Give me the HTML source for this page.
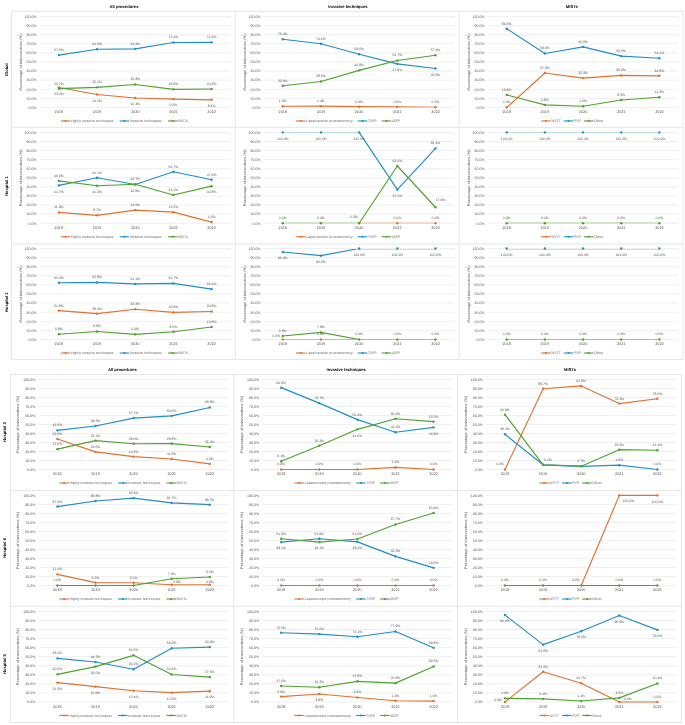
<!DOCTYPE html>
<html><head><meta charset="utf-8"><title>Charts</title>
<style>
html,body{margin:0;padding:0;background:#fff;width:685px;height:725px;overflow:hidden}
svg{display:block;filter:blur(0.3px)}
text{font-family:'Liberation Sans', Arial, sans-serif;text-rendering:geometricPrecision}
</style></head><body>
<svg width="685" height="725" viewBox="0 0 685 725">
<rect width="685" height="725" fill="#fff"/>
<rect x="11.40" y="11.25" width="671.70" height="348.35" fill="#fff" stroke="#E2E2E2" stroke-width="0.9"/>
<line x1="235.30" y1="11.25" x2="235.30" y2="359.60" stroke="#E2E2E2" stroke-width="0.9"/>
<line x1="459.20" y1="11.25" x2="459.20" y2="359.60" stroke="#E2E2E2" stroke-width="0.9"/>
<line x1="11.40" y1="127.30" x2="683.10" y2="127.30" stroke="#E2E2E2" stroke-width="0.9"/>
<line x1="11.40" y1="243.90" x2="683.10" y2="243.90" stroke="#E2E2E2" stroke-width="0.9"/>
<text x="123.95" y="8.49" font-size="4.15" text-anchor="middle" fill="#000" color="#000" font-weight="bold">All procedures</text>
<text x="347.85" y="8.49" font-size="4.15" text-anchor="middle" fill="#000" color="#000" font-weight="bold">Invasive techniques</text>
<text x="571.75" y="8.49" font-size="4.15" text-anchor="middle" fill="#000" color="#000" font-weight="bold">MISTs</text>
<text x="0" y="0" font-size="4.15" text-anchor="middle" font-weight="bold" fill="#000" color="#000" transform="translate(7.99,69.78) rotate(-90)">Global</text>
<text x="0" y="0" font-size="4.15" text-anchor="middle" font-weight="bold" fill="#000" color="#000" transform="translate(7.99,186.10) rotate(-90)">Hospital 1</text>
<text x="0" y="0" font-size="4.15" text-anchor="middle" font-weight="bold" fill="#000" color="#000" transform="translate(7.99,302.25) rotate(-90)">Hospital 2</text>
<line x1="39.80" y1="107.45" x2="230.70" y2="107.45" stroke="#E9E9E9" stroke-width="0.75"/>
<text x="36.80" y="108.75" font-size="3.6" text-anchor="end" fill="#555555" color="#555555">0.0%</text>
<line x1="39.80" y1="98.36" x2="230.70" y2="98.36" stroke="#E9E9E9" stroke-width="0.75"/>
<text x="36.80" y="99.66" font-size="3.6" text-anchor="end" fill="#555555" color="#555555">10.0%</text>
<line x1="39.80" y1="89.27" x2="230.70" y2="89.27" stroke="#E9E9E9" stroke-width="0.75"/>
<text x="36.80" y="90.57" font-size="3.6" text-anchor="end" fill="#555555" color="#555555">20.0%</text>
<line x1="39.80" y1="80.18" x2="230.70" y2="80.18" stroke="#E9E9E9" stroke-width="0.75"/>
<text x="36.80" y="81.48" font-size="3.6" text-anchor="end" fill="#555555" color="#555555">30.0%</text>
<line x1="39.80" y1="71.09" x2="230.70" y2="71.09" stroke="#E9E9E9" stroke-width="0.75"/>
<text x="36.80" y="72.39" font-size="3.6" text-anchor="end" fill="#555555" color="#555555">40.0%</text>
<line x1="39.80" y1="62.00" x2="230.70" y2="62.00" stroke="#E9E9E9" stroke-width="0.75"/>
<text x="36.80" y="63.30" font-size="3.6" text-anchor="end" fill="#555555" color="#555555">50.0%</text>
<line x1="39.80" y1="52.91" x2="230.70" y2="52.91" stroke="#E9E9E9" stroke-width="0.75"/>
<text x="36.80" y="54.21" font-size="3.6" text-anchor="end" fill="#555555" color="#555555">60.0%</text>
<line x1="39.80" y1="43.82" x2="230.70" y2="43.82" stroke="#E9E9E9" stroke-width="0.75"/>
<text x="36.80" y="45.12" font-size="3.6" text-anchor="end" fill="#555555" color="#555555">70.0%</text>
<line x1="39.80" y1="34.73" x2="230.70" y2="34.73" stroke="#E9E9E9" stroke-width="0.75"/>
<text x="36.80" y="36.03" font-size="3.6" text-anchor="end" fill="#555555" color="#555555">80.0%</text>
<line x1="39.80" y1="25.64" x2="230.70" y2="25.64" stroke="#E9E9E9" stroke-width="0.75"/>
<text x="36.80" y="26.94" font-size="3.6" text-anchor="end" fill="#555555" color="#555555">90.0%</text>
<line x1="39.80" y1="16.55" x2="230.70" y2="16.55" stroke="#E9E9E9" stroke-width="0.75"/>
<text x="36.80" y="17.85" font-size="3.6" text-anchor="end" fill="#555555" color="#555555">100.0%</text>
<text x="58.89" y="113.34" font-size="3.85" text-anchor="middle" fill="#555555" color="#555555">2018</text>
<text x="97.07" y="113.34" font-size="3.85" text-anchor="middle" fill="#555555" color="#555555">2019</text>
<text x="135.25" y="113.34" font-size="3.85" text-anchor="middle" fill="#555555" color="#555555">2020</text>
<text x="173.43" y="113.34" font-size="3.85" text-anchor="middle" fill="#555555" color="#555555">2021</text>
<text x="211.61" y="113.34" font-size="3.85" text-anchor="middle" fill="#555555" color="#555555">2022</text>
<text x="0" y="0" font-size="3.6" text-anchor="middle" fill="#555555" color="#555555" transform="translate(21.90,62.00) rotate(-90)" textLength="57" lengthAdjust="spacingAndGlyphs">Percentage of interventions (%)</text>
<line x1="60.80" y1="120.95" x2="70.30" y2="120.95" stroke="#E2702F" stroke-width="1.1"/>
<circle cx="65.55" cy="120.95" r="1.0" fill="#E2702F"/>
<text x="70.90" y="122.25" font-size="3.6" text-anchor="start" fill="#707070" color="#707070" textLength="42.70" lengthAdjust="spacingAndGlyphs">Highly invasive techniques</text>
<line x1="119.60" y1="120.95" x2="129.10" y2="120.95" stroke="#1F8FC8" stroke-width="1.1"/>
<circle cx="124.35" cy="120.95" r="1.0" fill="#1F8FC8"/>
<text x="129.70" y="122.25" font-size="3.6" text-anchor="start" fill="#707070" color="#707070" textLength="32.20" lengthAdjust="spacingAndGlyphs">Invasive techniques</text>
<line x1="167.90" y1="120.95" x2="177.40" y2="120.95" stroke="#4FA22E" stroke-width="1.1"/>
<circle cx="172.65" cy="120.95" r="1.0" fill="#4FA22E"/>
<text x="178.00" y="122.25" font-size="3.6" text-anchor="start" fill="#707070" color="#707070" textLength="10.00" lengthAdjust="spacingAndGlyphs">MISTs</text>
<clipPath id="c00"><rect x="39.80" y="16.95" width="190.90" height="90.50"/></clipPath>
<g clip-path="url(#c00)">
<polyline points="58.89,87.45 97.07,94.54 135.25,98.00 173.43,99.09 211.61,99.81" fill="none" stroke="#E2702F" stroke-width="1.15" stroke-linejoin="round" stroke-linecap="round"/>
<polyline points="58.89,55.09 97.07,49.27 135.25,48.91 173.43,42.55 211.61,42.37" fill="none" stroke="#1F8FC8" stroke-width="1.15" stroke-linejoin="round" stroke-linecap="round"/>
<polyline points="58.89,88.63 97.07,87.36 135.25,84.45 173.43,89.36 211.61,89.00" fill="none" stroke="#4FA22E" stroke-width="1.15" stroke-linejoin="round" stroke-linecap="round"/>
</g>
<circle cx="58.89" cy="87.45" r="1.2" fill="#E2702F"/>
<circle cx="97.07" cy="94.54" r="1.2" fill="#E2702F"/>
<circle cx="135.25" cy="98.00" r="1.2" fill="#E2702F"/>
<circle cx="173.43" cy="99.09" r="1.2" fill="#E2702F"/>
<circle cx="211.61" cy="99.81" r="1.2" fill="#E2702F"/>
<circle cx="58.89" cy="55.09" r="1.2" fill="#1F8FC8"/>
<circle cx="97.07" cy="49.27" r="1.2" fill="#1F8FC8"/>
<circle cx="135.25" cy="48.91" r="1.2" fill="#1F8FC8"/>
<circle cx="173.43" cy="42.55" r="1.2" fill="#1F8FC8"/>
<circle cx="211.61" cy="42.37" r="1.2" fill="#1F8FC8"/>
<circle cx="58.89" cy="88.63" r="1.2" fill="#4FA22E"/>
<circle cx="97.07" cy="87.36" r="1.2" fill="#4FA22E"/>
<circle cx="135.25" cy="84.45" r="1.2" fill="#4FA22E"/>
<circle cx="173.43" cy="89.36" r="1.2" fill="#4FA22E"/>
<circle cx="211.61" cy="89.00" r="1.2" fill="#4FA22E"/>
<text x="58.89" y="94.69" font-size="3.45" text-anchor="middle" fill="#555555" color="#555555">22.0%</text>
<text x="97.07" y="101.78" font-size="3.45" text-anchor="middle" fill="#555555" color="#555555">14.2%</text>
<text x="135.25" y="105.24" font-size="3.45" text-anchor="middle" fill="#555555" color="#555555">10.4%</text>
<text x="173.43" y="106.33" font-size="3.45" text-anchor="middle" fill="#555555" color="#555555">9.2%</text>
<text x="211.61" y="107.06" font-size="3.45" text-anchor="middle" fill="#555555" color="#555555">8.4%</text>
<text x="58.89" y="51.03" font-size="3.45" text-anchor="middle" fill="#555555" color="#555555">57.6%</text>
<text x="97.07" y="45.22" font-size="3.45" text-anchor="middle" fill="#555555" color="#555555">64.0%</text>
<text x="135.25" y="44.85" font-size="3.45" text-anchor="middle" fill="#555555" color="#555555">64.4%</text>
<text x="173.43" y="38.49" font-size="3.45" text-anchor="middle" fill="#555555" color="#555555">71.4%</text>
<text x="211.61" y="38.31" font-size="3.45" text-anchor="middle" fill="#555555" color="#555555">71.6%</text>
<text x="58.89" y="84.58" font-size="3.45" text-anchor="middle" fill="#555555" color="#555555">20.7%</text>
<text x="97.07" y="83.30" font-size="3.45" text-anchor="middle" fill="#555555" color="#555555">22.1%</text>
<text x="135.25" y="80.39" font-size="3.45" text-anchor="middle" fill="#555555" color="#555555">25.3%</text>
<text x="173.43" y="85.30" font-size="3.45" text-anchor="middle" fill="#555555" color="#555555">19.9%</text>
<text x="211.61" y="84.94" font-size="3.45" text-anchor="middle" fill="#555555" color="#555555">20.3%</text>
<line x1="263.70" y1="107.45" x2="454.60" y2="107.45" stroke="#E9E9E9" stroke-width="0.75"/>
<text x="260.70" y="108.75" font-size="3.6" text-anchor="end" fill="#555555" color="#555555">0.0%</text>
<line x1="263.70" y1="98.36" x2="454.60" y2="98.36" stroke="#E9E9E9" stroke-width="0.75"/>
<text x="260.70" y="99.66" font-size="3.6" text-anchor="end" fill="#555555" color="#555555">10.0%</text>
<line x1="263.70" y1="89.27" x2="454.60" y2="89.27" stroke="#E9E9E9" stroke-width="0.75"/>
<text x="260.70" y="90.57" font-size="3.6" text-anchor="end" fill="#555555" color="#555555">20.0%</text>
<line x1="263.70" y1="80.18" x2="454.60" y2="80.18" stroke="#E9E9E9" stroke-width="0.75"/>
<text x="260.70" y="81.48" font-size="3.6" text-anchor="end" fill="#555555" color="#555555">30.0%</text>
<line x1="263.70" y1="71.09" x2="454.60" y2="71.09" stroke="#E9E9E9" stroke-width="0.75"/>
<text x="260.70" y="72.39" font-size="3.6" text-anchor="end" fill="#555555" color="#555555">40.0%</text>
<line x1="263.70" y1="62.00" x2="454.60" y2="62.00" stroke="#E9E9E9" stroke-width="0.75"/>
<text x="260.70" y="63.30" font-size="3.6" text-anchor="end" fill="#555555" color="#555555">50.0%</text>
<line x1="263.70" y1="52.91" x2="454.60" y2="52.91" stroke="#E9E9E9" stroke-width="0.75"/>
<text x="260.70" y="54.21" font-size="3.6" text-anchor="end" fill="#555555" color="#555555">60.0%</text>
<line x1="263.70" y1="43.82" x2="454.60" y2="43.82" stroke="#E9E9E9" stroke-width="0.75"/>
<text x="260.70" y="45.12" font-size="3.6" text-anchor="end" fill="#555555" color="#555555">70.0%</text>
<line x1="263.70" y1="34.73" x2="454.60" y2="34.73" stroke="#E9E9E9" stroke-width="0.75"/>
<text x="260.70" y="36.03" font-size="3.6" text-anchor="end" fill="#555555" color="#555555">80.0%</text>
<line x1="263.70" y1="25.64" x2="454.60" y2="25.64" stroke="#E9E9E9" stroke-width="0.75"/>
<text x="260.70" y="26.94" font-size="3.6" text-anchor="end" fill="#555555" color="#555555">90.0%</text>
<line x1="263.70" y1="16.55" x2="454.60" y2="16.55" stroke="#E9E9E9" stroke-width="0.75"/>
<text x="260.70" y="17.85" font-size="3.6" text-anchor="end" fill="#555555" color="#555555">100.0%</text>
<text x="282.79" y="113.34" font-size="3.85" text-anchor="middle" fill="#555555" color="#555555">2018</text>
<text x="320.97" y="113.34" font-size="3.85" text-anchor="middle" fill="#555555" color="#555555">2019</text>
<text x="359.15" y="113.34" font-size="3.85" text-anchor="middle" fill="#555555" color="#555555">2020</text>
<text x="397.33" y="113.34" font-size="3.85" text-anchor="middle" fill="#555555" color="#555555">2021</text>
<text x="435.51" y="113.34" font-size="3.85" text-anchor="middle" fill="#555555" color="#555555">2022</text>
<text x="0" y="0" font-size="3.6" text-anchor="middle" fill="#555555" color="#555555" transform="translate(245.80,62.00) rotate(-90)" textLength="57" lengthAdjust="spacingAndGlyphs">Percentage of interventions (%)</text>
<line x1="296.00" y1="120.95" x2="305.50" y2="120.95" stroke="#E2702F" stroke-width="1.1"/>
<circle cx="300.75" cy="120.95" r="1.0" fill="#E2702F"/>
<text x="306.10" y="122.25" font-size="3.6" text-anchor="start" fill="#707070" color="#707070" textLength="46.40" lengthAdjust="spacingAndGlyphs">Laparoscopic prostatectomy</text>
<line x1="357.80" y1="120.95" x2="367.30" y2="120.95" stroke="#1F8FC8" stroke-width="1.1"/>
<circle cx="362.55" cy="120.95" r="1.0" fill="#1F8FC8"/>
<text x="367.90" y="122.25" font-size="3.6" text-anchor="start" fill="#707070" color="#707070" textLength="8.70" lengthAdjust="spacingAndGlyphs">TURP</text>
<line x1="381.80" y1="120.95" x2="391.30" y2="120.95" stroke="#4FA22E" stroke-width="1.1"/>
<circle cx="386.55" cy="120.95" r="1.0" fill="#4FA22E"/>
<text x="391.90" y="122.25" font-size="3.6" text-anchor="start" fill="#707070" color="#707070" textLength="8.20" lengthAdjust="spacingAndGlyphs">AEEP</text>
<clipPath id="c01"><rect x="263.70" y="16.95" width="190.90" height="90.50"/></clipPath>
<g clip-path="url(#c01)">
<polyline points="282.79,106.27 320.97,106.18 359.15,106.63 397.33,106.90 435.51,107.27" fill="none" stroke="#E2702F" stroke-width="1.15" stroke-linejoin="round" stroke-linecap="round"/>
<polyline points="282.79,39.27 320.97,43.73 359.15,54.18 397.33,63.91 435.51,68.54" fill="none" stroke="#1F8FC8" stroke-width="1.15" stroke-linejoin="round" stroke-linecap="round"/>
<polyline points="282.79,85.72 320.97,81.45 359.15,70.36 397.33,60.45 435.51,55.27" fill="none" stroke="#4FA22E" stroke-width="1.15" stroke-linejoin="round" stroke-linecap="round"/>
</g>
<circle cx="282.79" cy="106.27" r="1.2" fill="#E2702F"/>
<circle cx="320.97" cy="106.18" r="1.2" fill="#E2702F"/>
<circle cx="359.15" cy="106.63" r="1.2" fill="#E2702F"/>
<circle cx="397.33" cy="106.90" r="1.2" fill="#E2702F"/>
<circle cx="435.51" cy="107.27" r="1.2" fill="#E2702F"/>
<circle cx="282.79" cy="39.27" r="1.2" fill="#1F8FC8"/>
<circle cx="320.97" cy="43.73" r="1.2" fill="#1F8FC8"/>
<circle cx="359.15" cy="54.18" r="1.2" fill="#1F8FC8"/>
<circle cx="397.33" cy="63.91" r="1.2" fill="#1F8FC8"/>
<circle cx="435.51" cy="68.54" r="1.2" fill="#1F8FC8"/>
<circle cx="282.79" cy="85.72" r="1.2" fill="#4FA22E"/>
<circle cx="320.97" cy="81.45" r="1.2" fill="#4FA22E"/>
<circle cx="359.15" cy="70.36" r="1.2" fill="#4FA22E"/>
<circle cx="397.33" cy="60.45" r="1.2" fill="#4FA22E"/>
<circle cx="435.51" cy="55.27" r="1.2" fill="#4FA22E"/>
<text x="282.79" y="102.21" font-size="3.45" text-anchor="middle" fill="#555555" color="#555555">1.3%</text>
<text x="320.97" y="102.12" font-size="3.45" text-anchor="middle" fill="#555555" color="#555555">1.4%</text>
<text x="359.15" y="102.57" font-size="3.45" text-anchor="middle" fill="#555555" color="#555555">0.9%</text>
<text x="397.33" y="102.85" font-size="3.45" text-anchor="middle" fill="#555555" color="#555555">0.6%</text>
<text x="435.51" y="103.21" font-size="3.45" text-anchor="middle" fill="#555555" color="#555555">0.2%</text>
<text x="282.79" y="35.22" font-size="3.45" text-anchor="middle" fill="#555555" color="#555555">75.0%</text>
<text x="320.97" y="39.67" font-size="3.45" text-anchor="middle" fill="#555555" color="#555555">70.1%</text>
<text x="359.15" y="50.12" font-size="3.45" text-anchor="middle" fill="#555555" color="#555555">58.6%</text>
<text x="397.33" y="71.15" font-size="3.45" text-anchor="middle" fill="#555555" color="#555555">47.9%</text>
<text x="435.51" y="75.79" font-size="3.45" text-anchor="middle" fill="#555555" color="#555555">42.8%</text>
<text x="282.79" y="81.67" font-size="3.45" text-anchor="middle" fill="#555555" color="#555555">23.9%</text>
<text x="320.97" y="77.39" font-size="3.45" text-anchor="middle" fill="#555555" color="#555555">28.6%</text>
<text x="359.15" y="66.30" font-size="3.45" text-anchor="middle" fill="#555555" color="#555555">40.8%</text>
<text x="397.33" y="56.40" font-size="3.45" text-anchor="middle" fill="#555555" color="#555555">51.7%</text>
<text x="435.51" y="51.22" font-size="3.45" text-anchor="middle" fill="#555555" color="#555555">57.4%</text>
<line x1="487.60" y1="107.45" x2="678.50" y2="107.45" stroke="#E9E9E9" stroke-width="0.75"/>
<text x="484.60" y="108.75" font-size="3.6" text-anchor="end" fill="#555555" color="#555555">0.0%</text>
<line x1="487.60" y1="98.36" x2="678.50" y2="98.36" stroke="#E9E9E9" stroke-width="0.75"/>
<text x="484.60" y="99.66" font-size="3.6" text-anchor="end" fill="#555555" color="#555555">10.0%</text>
<line x1="487.60" y1="89.27" x2="678.50" y2="89.27" stroke="#E9E9E9" stroke-width="0.75"/>
<text x="484.60" y="90.57" font-size="3.6" text-anchor="end" fill="#555555" color="#555555">20.0%</text>
<line x1="487.60" y1="80.18" x2="678.50" y2="80.18" stroke="#E9E9E9" stroke-width="0.75"/>
<text x="484.60" y="81.48" font-size="3.6" text-anchor="end" fill="#555555" color="#555555">30.0%</text>
<line x1="487.60" y1="71.09" x2="678.50" y2="71.09" stroke="#E9E9E9" stroke-width="0.75"/>
<text x="484.60" y="72.39" font-size="3.6" text-anchor="end" fill="#555555" color="#555555">40.0%</text>
<line x1="487.60" y1="62.00" x2="678.50" y2="62.00" stroke="#E9E9E9" stroke-width="0.75"/>
<text x="484.60" y="63.30" font-size="3.6" text-anchor="end" fill="#555555" color="#555555">50.0%</text>
<line x1="487.60" y1="52.91" x2="678.50" y2="52.91" stroke="#E9E9E9" stroke-width="0.75"/>
<text x="484.60" y="54.21" font-size="3.6" text-anchor="end" fill="#555555" color="#555555">60.0%</text>
<line x1="487.60" y1="43.82" x2="678.50" y2="43.82" stroke="#E9E9E9" stroke-width="0.75"/>
<text x="484.60" y="45.12" font-size="3.6" text-anchor="end" fill="#555555" color="#555555">70.0%</text>
<line x1="487.60" y1="34.73" x2="678.50" y2="34.73" stroke="#E9E9E9" stroke-width="0.75"/>
<text x="484.60" y="36.03" font-size="3.6" text-anchor="end" fill="#555555" color="#555555">80.0%</text>
<line x1="487.60" y1="25.64" x2="678.50" y2="25.64" stroke="#E9E9E9" stroke-width="0.75"/>
<text x="484.60" y="26.94" font-size="3.6" text-anchor="end" fill="#555555" color="#555555">90.0%</text>
<line x1="487.60" y1="16.55" x2="678.50" y2="16.55" stroke="#E9E9E9" stroke-width="0.75"/>
<text x="484.60" y="17.85" font-size="3.6" text-anchor="end" fill="#555555" color="#555555">100.0%</text>
<text x="506.69" y="113.34" font-size="3.85" text-anchor="middle" fill="#555555" color="#555555">2018</text>
<text x="544.87" y="113.34" font-size="3.85" text-anchor="middle" fill="#555555" color="#555555">2019</text>
<text x="583.05" y="113.34" font-size="3.85" text-anchor="middle" fill="#555555" color="#555555">2020</text>
<text x="621.23" y="113.34" font-size="3.85" text-anchor="middle" fill="#555555" color="#555555">2021</text>
<text x="659.41" y="113.34" font-size="3.85" text-anchor="middle" fill="#555555" color="#555555">2022</text>
<text x="0" y="0" font-size="3.6" text-anchor="middle" fill="#555555" color="#555555" transform="translate(469.70,62.00) rotate(-90)" textLength="57" lengthAdjust="spacingAndGlyphs">Percentage of interventions (%)</text>
<line x1="541.10" y1="120.95" x2="550.60" y2="120.95" stroke="#E2702F" stroke-width="1.1"/>
<circle cx="545.85" cy="120.95" r="1.0" fill="#E2702F"/>
<text x="551.20" y="122.25" font-size="3.6" text-anchor="start" fill="#707070" color="#707070" textLength="9.60" lengthAdjust="spacingAndGlyphs">WVTT</text>
<line x1="563.80" y1="120.95" x2="573.30" y2="120.95" stroke="#1F8FC8" stroke-width="1.1"/>
<circle cx="568.55" cy="120.95" r="1.0" fill="#1F8FC8"/>
<text x="573.90" y="122.25" font-size="3.6" text-anchor="start" fill="#707070" color="#707070" textLength="7.10" lengthAdjust="spacingAndGlyphs">PVP</text>
<line x1="583.90" y1="120.95" x2="593.40" y2="120.95" stroke="#4FA22E" stroke-width="1.1"/>
<circle cx="588.65" cy="120.95" r="1.0" fill="#4FA22E"/>
<text x="594.00" y="122.25" font-size="3.6" text-anchor="start" fill="#707070" color="#707070" textLength="9.60" lengthAdjust="spacingAndGlyphs">Other</text>
<clipPath id="c02"><rect x="487.60" y="16.95" width="190.90" height="90.50"/></clipPath>
<g clip-path="url(#c02)">
<polyline points="506.69,107.45 544.87,73.00 583.05,78.09 621.23,75.36 659.41,75.82" fill="none" stroke="#E2702F" stroke-width="1.15" stroke-linejoin="round" stroke-linecap="round"/>
<polyline points="506.69,28.73 544.87,53.55 583.05,46.91 621.23,56.09 659.41,58.27" fill="none" stroke="#1F8FC8" stroke-width="1.15" stroke-linejoin="round" stroke-linecap="round"/>
<polyline points="506.69,94.91 544.87,104.90 583.05,106.27 621.23,100.00 659.41,97.27" fill="none" stroke="#4FA22E" stroke-width="1.15" stroke-linejoin="round" stroke-linecap="round"/>
</g>
<circle cx="506.69" cy="107.45" r="1.2" fill="#E2702F"/>
<circle cx="544.87" cy="73.00" r="1.2" fill="#E2702F"/>
<circle cx="583.05" cy="78.09" r="1.2" fill="#E2702F"/>
<circle cx="621.23" cy="75.36" r="1.2" fill="#E2702F"/>
<circle cx="659.41" cy="75.82" r="1.2" fill="#E2702F"/>
<circle cx="506.69" cy="28.73" r="1.2" fill="#1F8FC8"/>
<circle cx="544.87" cy="53.55" r="1.2" fill="#1F8FC8"/>
<circle cx="583.05" cy="46.91" r="1.2" fill="#1F8FC8"/>
<circle cx="621.23" cy="56.09" r="1.2" fill="#1F8FC8"/>
<circle cx="659.41" cy="58.27" r="1.2" fill="#1F8FC8"/>
<circle cx="506.69" cy="94.91" r="1.2" fill="#4FA22E"/>
<circle cx="544.87" cy="104.90" r="1.2" fill="#4FA22E"/>
<circle cx="583.05" cy="106.27" r="1.2" fill="#4FA22E"/>
<circle cx="621.23" cy="100.00" r="1.2" fill="#4FA22E"/>
<circle cx="659.41" cy="97.27" r="1.2" fill="#4FA22E"/>
<text x="506.69" y="103.39" font-size="3.45" text-anchor="middle" fill="#555555" color="#555555">0.0%</text>
<text x="544.87" y="68.94" font-size="3.45" text-anchor="middle" fill="#555555" color="#555555">37.9%</text>
<text x="583.05" y="74.03" font-size="3.45" text-anchor="middle" fill="#555555" color="#555555">32.3%</text>
<text x="621.23" y="71.30" font-size="3.45" text-anchor="middle" fill="#555555" color="#555555">35.3%</text>
<text x="659.41" y="71.76" font-size="3.45" text-anchor="middle" fill="#555555" color="#555555">34.8%</text>
<text x="506.69" y="24.67" font-size="3.45" text-anchor="middle" fill="#555555" color="#555555">86.6%</text>
<text x="544.87" y="49.49" font-size="3.45" text-anchor="middle" fill="#555555" color="#555555">59.3%</text>
<text x="583.05" y="42.85" font-size="3.45" text-anchor="middle" fill="#555555" color="#555555">66.6%</text>
<text x="621.23" y="52.03" font-size="3.45" text-anchor="middle" fill="#555555" color="#555555">56.5%</text>
<text x="659.41" y="54.22" font-size="3.45" text-anchor="middle" fill="#555555" color="#555555">54.1%</text>
<text x="506.69" y="90.85" font-size="3.45" text-anchor="middle" fill="#555555" color="#555555">13.8%</text>
<text x="544.87" y="100.85" font-size="3.45" text-anchor="middle" fill="#555555" color="#555555">2.8%</text>
<text x="583.05" y="102.21" font-size="3.45" text-anchor="middle" fill="#555555" color="#555555">1.3%</text>
<text x="621.23" y="95.94" font-size="3.45" text-anchor="middle" fill="#555555" color="#555555">8.2%</text>
<text x="659.41" y="93.21" font-size="3.45" text-anchor="middle" fill="#555555" color="#555555">11.2%</text>
<line x1="39.80" y1="223.25" x2="230.70" y2="223.25" stroke="#E9E9E9" stroke-width="0.75"/>
<text x="36.80" y="224.55" font-size="3.6" text-anchor="end" fill="#555555" color="#555555">0.0%</text>
<line x1="39.80" y1="214.16" x2="230.70" y2="214.16" stroke="#E9E9E9" stroke-width="0.75"/>
<text x="36.80" y="215.46" font-size="3.6" text-anchor="end" fill="#555555" color="#555555">10.0%</text>
<line x1="39.80" y1="205.08" x2="230.70" y2="205.08" stroke="#E9E9E9" stroke-width="0.75"/>
<text x="36.80" y="206.38" font-size="3.6" text-anchor="end" fill="#555555" color="#555555">20.0%</text>
<line x1="39.80" y1="196.00" x2="230.70" y2="196.00" stroke="#E9E9E9" stroke-width="0.75"/>
<text x="36.80" y="197.29" font-size="3.6" text-anchor="end" fill="#555555" color="#555555">30.0%</text>
<line x1="39.80" y1="186.91" x2="230.70" y2="186.91" stroke="#E9E9E9" stroke-width="0.75"/>
<text x="36.80" y="188.21" font-size="3.6" text-anchor="end" fill="#555555" color="#555555">40.0%</text>
<line x1="39.80" y1="177.82" x2="230.70" y2="177.82" stroke="#E9E9E9" stroke-width="0.75"/>
<text x="36.80" y="179.12" font-size="3.6" text-anchor="end" fill="#555555" color="#555555">50.0%</text>
<line x1="39.80" y1="168.74" x2="230.70" y2="168.74" stroke="#E9E9E9" stroke-width="0.75"/>
<text x="36.80" y="170.04" font-size="3.6" text-anchor="end" fill="#555555" color="#555555">60.0%</text>
<line x1="39.80" y1="159.66" x2="230.70" y2="159.66" stroke="#E9E9E9" stroke-width="0.75"/>
<text x="36.80" y="160.95" font-size="3.6" text-anchor="end" fill="#555555" color="#555555">70.0%</text>
<line x1="39.80" y1="150.57" x2="230.70" y2="150.57" stroke="#E9E9E9" stroke-width="0.75"/>
<text x="36.80" y="151.87" font-size="3.6" text-anchor="end" fill="#555555" color="#555555">80.0%</text>
<line x1="39.80" y1="141.49" x2="230.70" y2="141.49" stroke="#E9E9E9" stroke-width="0.75"/>
<text x="36.80" y="142.78" font-size="3.6" text-anchor="end" fill="#555555" color="#555555">90.0%</text>
<line x1="39.80" y1="132.40" x2="230.70" y2="132.40" stroke="#E9E9E9" stroke-width="0.75"/>
<text x="36.80" y="133.70" font-size="3.6" text-anchor="end" fill="#555555" color="#555555">100.0%</text>
<text x="58.89" y="229.14" font-size="3.85" text-anchor="middle" fill="#555555" color="#555555">2018</text>
<text x="97.07" y="229.14" font-size="3.85" text-anchor="middle" fill="#555555" color="#555555">2019</text>
<text x="135.25" y="229.14" font-size="3.85" text-anchor="middle" fill="#555555" color="#555555">2020</text>
<text x="173.43" y="229.14" font-size="3.85" text-anchor="middle" fill="#555555" color="#555555">2021</text>
<text x="211.61" y="229.14" font-size="3.85" text-anchor="middle" fill="#555555" color="#555555">2022</text>
<text x="0" y="0" font-size="3.6" text-anchor="middle" fill="#555555" color="#555555" transform="translate(21.90,177.82) rotate(-90)" textLength="57" lengthAdjust="spacingAndGlyphs">Percentage of interventions (%)</text>
<line x1="60.80" y1="236.75" x2="70.30" y2="236.75" stroke="#E2702F" stroke-width="1.1"/>
<circle cx="65.55" cy="236.75" r="1.0" fill="#E2702F"/>
<text x="70.90" y="238.05" font-size="3.6" text-anchor="start" fill="#707070" color="#707070" textLength="42.70" lengthAdjust="spacingAndGlyphs">Highly invasive techniques</text>
<line x1="119.60" y1="236.75" x2="129.10" y2="236.75" stroke="#1F8FC8" stroke-width="1.1"/>
<circle cx="124.35" cy="236.75" r="1.0" fill="#1F8FC8"/>
<text x="129.70" y="238.05" font-size="3.6" text-anchor="start" fill="#707070" color="#707070" textLength="32.20" lengthAdjust="spacingAndGlyphs">Invasive techniques</text>
<line x1="167.90" y1="236.75" x2="177.40" y2="236.75" stroke="#4FA22E" stroke-width="1.1"/>
<circle cx="172.65" cy="236.75" r="1.0" fill="#4FA22E"/>
<text x="178.00" y="238.05" font-size="3.6" text-anchor="start" fill="#707070" color="#707070" textLength="10.00" lengthAdjust="spacingAndGlyphs">MISTs</text>
<clipPath id="c10"><rect x="39.80" y="132.80" width="190.90" height="90.45"/></clipPath>
<g clip-path="url(#c10)">
<polyline points="58.89,212.44 97.07,215.35 135.25,210.08 173.43,212.17 211.61,222.07" fill="none" stroke="#E2702F" stroke-width="1.15" stroke-linejoin="round" stroke-linecap="round"/>
<polyline points="58.89,185.37 97.07,177.73 135.25,184.46 173.43,171.74 211.61,179.73" fill="none" stroke="#1F8FC8" stroke-width="1.15" stroke-linejoin="round" stroke-linecap="round"/>
<polyline points="58.89,180.91 97.07,185.73 135.25,184.28 173.43,195.00 211.61,186.18" fill="none" stroke="#4FA22E" stroke-width="1.15" stroke-linejoin="round" stroke-linecap="round"/>
</g>
<circle cx="58.89" cy="212.44" r="1.2" fill="#E2702F"/>
<circle cx="97.07" cy="215.35" r="1.2" fill="#E2702F"/>
<circle cx="135.25" cy="210.08" r="1.2" fill="#E2702F"/>
<circle cx="173.43" cy="212.17" r="1.2" fill="#E2702F"/>
<circle cx="211.61" cy="222.07" r="1.2" fill="#E2702F"/>
<circle cx="58.89" cy="185.37" r="1.2" fill="#1F8FC8"/>
<circle cx="97.07" cy="177.73" r="1.2" fill="#1F8FC8"/>
<circle cx="135.25" cy="184.46" r="1.2" fill="#1F8FC8"/>
<circle cx="173.43" cy="171.74" r="1.2" fill="#1F8FC8"/>
<circle cx="211.61" cy="179.73" r="1.2" fill="#1F8FC8"/>
<circle cx="58.89" cy="180.91" r="1.2" fill="#4FA22E"/>
<circle cx="97.07" cy="185.73" r="1.2" fill="#4FA22E"/>
<circle cx="135.25" cy="184.28" r="1.2" fill="#4FA22E"/>
<circle cx="173.43" cy="195.00" r="1.2" fill="#4FA22E"/>
<circle cx="211.61" cy="186.18" r="1.2" fill="#4FA22E"/>
<text x="58.89" y="208.38" font-size="3.45" text-anchor="middle" fill="#555555" color="#555555">11.9%</text>
<text x="97.07" y="211.29" font-size="3.45" text-anchor="middle" fill="#555555" color="#555555">8.7%</text>
<text x="135.25" y="206.02" font-size="3.45" text-anchor="middle" fill="#555555" color="#555555">14.5%</text>
<text x="173.43" y="208.11" font-size="3.45" text-anchor="middle" fill="#555555" color="#555555">12.2%</text>
<text x="211.61" y="218.01" font-size="3.45" text-anchor="middle" fill="#555555" color="#555555">1.3%</text>
<text x="58.89" y="192.61" font-size="3.45" text-anchor="middle" fill="#555555" color="#555555">41.7%</text>
<text x="97.07" y="173.68" font-size="3.45" text-anchor="middle" fill="#555555" color="#555555">50.1%</text>
<text x="135.25" y="180.40" font-size="3.45" text-anchor="middle" fill="#555555" color="#555555">42.7%</text>
<text x="173.43" y="167.68" font-size="3.45" text-anchor="middle" fill="#555555" color="#555555">56.7%</text>
<text x="211.61" y="175.67" font-size="3.45" text-anchor="middle" fill="#555555" color="#555555">47.9%</text>
<text x="58.89" y="176.86" font-size="3.45" text-anchor="middle" fill="#555555" color="#555555">46.6%</text>
<text x="97.07" y="192.97" font-size="3.45" text-anchor="middle" fill="#555555" color="#555555">41.3%</text>
<text x="135.25" y="191.52" font-size="3.45" text-anchor="middle" fill="#555555" color="#555555">42.9%</text>
<text x="173.43" y="190.94" font-size="3.45" text-anchor="middle" fill="#555555" color="#555555">31.1%</text>
<text x="211.61" y="193.43" font-size="3.45" text-anchor="middle" fill="#555555" color="#555555">40.8%</text>
<line x1="263.70" y1="223.25" x2="454.60" y2="223.25" stroke="#E9E9E9" stroke-width="0.75"/>
<text x="260.70" y="224.55" font-size="3.6" text-anchor="end" fill="#555555" color="#555555">0.0%</text>
<line x1="263.70" y1="214.16" x2="454.60" y2="214.16" stroke="#E9E9E9" stroke-width="0.75"/>
<text x="260.70" y="215.46" font-size="3.6" text-anchor="end" fill="#555555" color="#555555">10.0%</text>
<line x1="263.70" y1="205.08" x2="454.60" y2="205.08" stroke="#E9E9E9" stroke-width="0.75"/>
<text x="260.70" y="206.38" font-size="3.6" text-anchor="end" fill="#555555" color="#555555">20.0%</text>
<line x1="263.70" y1="196.00" x2="454.60" y2="196.00" stroke="#E9E9E9" stroke-width="0.75"/>
<text x="260.70" y="197.29" font-size="3.6" text-anchor="end" fill="#555555" color="#555555">30.0%</text>
<line x1="263.70" y1="186.91" x2="454.60" y2="186.91" stroke="#E9E9E9" stroke-width="0.75"/>
<text x="260.70" y="188.21" font-size="3.6" text-anchor="end" fill="#555555" color="#555555">40.0%</text>
<line x1="263.70" y1="177.82" x2="454.60" y2="177.82" stroke="#E9E9E9" stroke-width="0.75"/>
<text x="260.70" y="179.12" font-size="3.6" text-anchor="end" fill="#555555" color="#555555">50.0%</text>
<line x1="263.70" y1="168.74" x2="454.60" y2="168.74" stroke="#E9E9E9" stroke-width="0.75"/>
<text x="260.70" y="170.04" font-size="3.6" text-anchor="end" fill="#555555" color="#555555">60.0%</text>
<line x1="263.70" y1="159.66" x2="454.60" y2="159.66" stroke="#E9E9E9" stroke-width="0.75"/>
<text x="260.70" y="160.95" font-size="3.6" text-anchor="end" fill="#555555" color="#555555">70.0%</text>
<line x1="263.70" y1="150.57" x2="454.60" y2="150.57" stroke="#E9E9E9" stroke-width="0.75"/>
<text x="260.70" y="151.87" font-size="3.6" text-anchor="end" fill="#555555" color="#555555">80.0%</text>
<line x1="263.70" y1="141.49" x2="454.60" y2="141.49" stroke="#E9E9E9" stroke-width="0.75"/>
<text x="260.70" y="142.78" font-size="3.6" text-anchor="end" fill="#555555" color="#555555">90.0%</text>
<line x1="263.70" y1="132.40" x2="454.60" y2="132.40" stroke="#E9E9E9" stroke-width="0.75"/>
<text x="260.70" y="133.70" font-size="3.6" text-anchor="end" fill="#555555" color="#555555">100.0%</text>
<text x="282.79" y="229.14" font-size="3.85" text-anchor="middle" fill="#555555" color="#555555">2018</text>
<text x="320.97" y="229.14" font-size="3.85" text-anchor="middle" fill="#555555" color="#555555">2019</text>
<text x="359.15" y="229.14" font-size="3.85" text-anchor="middle" fill="#555555" color="#555555">2020</text>
<text x="397.33" y="229.14" font-size="3.85" text-anchor="middle" fill="#555555" color="#555555">2021</text>
<text x="435.51" y="229.14" font-size="3.85" text-anchor="middle" fill="#555555" color="#555555">2022</text>
<text x="0" y="0" font-size="3.6" text-anchor="middle" fill="#555555" color="#555555" transform="translate(245.80,177.82) rotate(-90)" textLength="57" lengthAdjust="spacingAndGlyphs">Percentage of interventions (%)</text>
<line x1="296.00" y1="236.75" x2="305.50" y2="236.75" stroke="#E2702F" stroke-width="1.1"/>
<circle cx="300.75" cy="236.75" r="1.0" fill="#E2702F"/>
<text x="306.10" y="238.05" font-size="3.6" text-anchor="start" fill="#707070" color="#707070" textLength="46.40" lengthAdjust="spacingAndGlyphs">Laparoscopic prostatectomy</text>
<line x1="357.80" y1="236.75" x2="367.30" y2="236.75" stroke="#1F8FC8" stroke-width="1.1"/>
<circle cx="362.55" cy="236.75" r="1.0" fill="#1F8FC8"/>
<text x="367.90" y="238.05" font-size="3.6" text-anchor="start" fill="#707070" color="#707070" textLength="8.70" lengthAdjust="spacingAndGlyphs">TURP</text>
<line x1="381.80" y1="236.75" x2="391.30" y2="236.75" stroke="#4FA22E" stroke-width="1.1"/>
<circle cx="386.55" cy="236.75" r="1.0" fill="#4FA22E"/>
<text x="391.90" y="238.05" font-size="3.6" text-anchor="start" fill="#707070" color="#707070" textLength="8.20" lengthAdjust="spacingAndGlyphs">AEEP</text>
<clipPath id="c11"><rect x="263.70" y="132.80" width="190.90" height="90.45"/></clipPath>
<g clip-path="url(#c11)">
<polyline points="359.15,223.25 397.33,223.25 435.51,223.25" fill="none" stroke="#E2702F" stroke-width="1.15" stroke-linejoin="round" stroke-linecap="round"/>
<polyline points="282.79,132.40 320.97,132.40 359.15,132.40 397.33,189.64 435.51,148.39" fill="none" stroke="#1F8FC8" stroke-width="1.15" stroke-linejoin="round" stroke-linecap="round"/>
<polyline points="282.79,223.25 320.97,223.25 359.15,223.25 397.33,166.01 435.51,207.26" fill="none" stroke="#4FA22E" stroke-width="1.15" stroke-linejoin="round" stroke-linecap="round"/>
</g>
<circle cx="397.33" cy="223.25" r="1.2" fill="#E2702F"/>
<circle cx="435.51" cy="223.25" r="1.2" fill="#E2702F"/>
<circle cx="282.79" cy="132.40" r="1.2" fill="#1F8FC8"/>
<circle cx="320.97" cy="132.40" r="1.2" fill="#1F8FC8"/>
<circle cx="359.15" cy="132.40" r="1.2" fill="#1F8FC8"/>
<circle cx="397.33" cy="189.64" r="1.2" fill="#1F8FC8"/>
<circle cx="435.51" cy="148.39" r="1.2" fill="#1F8FC8"/>
<circle cx="282.79" cy="223.25" r="1.2" fill="#4FA22E"/>
<circle cx="320.97" cy="223.25" r="1.2" fill="#4FA22E"/>
<circle cx="359.15" cy="223.25" r="1.2" fill="#4FA22E"/>
<circle cx="397.33" cy="166.01" r="1.2" fill="#4FA22E"/>
<circle cx="435.51" cy="207.26" r="1.2" fill="#4FA22E"/>
<text x="282.79" y="219.19" font-size="3.45" text-anchor="middle" fill="#555555" color="#555555">0.0%</text>
<text x="320.97" y="219.19" font-size="3.45" text-anchor="middle" fill="#555555" color="#555555">0.0%</text>
<text x="353.85" y="217.79" font-size="3.45" text-anchor="middle" fill="#555555" color="#555555">0.0%</text>
<text x="397.33" y="219.19" font-size="3.45" text-anchor="middle" fill="#555555" color="#555555">0.0%</text>
<text x="435.51" y="219.19" font-size="3.45" text-anchor="middle" fill="#555555" color="#555555">0.0%</text>
<text x="282.79" y="139.64" font-size="3.45" text-anchor="middle" fill="#555555" color="#555555">100.0%</text>
<text x="320.97" y="139.64" font-size="3.45" text-anchor="middle" fill="#555555" color="#555555">100.0%</text>
<text x="359.15" y="139.64" font-size="3.45" text-anchor="middle" fill="#555555" color="#555555">100.0%</text>
<text x="397.33" y="196.88" font-size="3.45" text-anchor="middle" fill="#555555" color="#555555">37.0%</text>
<text x="435.51" y="144.33" font-size="3.45" text-anchor="middle" fill="#555555" color="#555555">82.4%</text>
<text x="397.33" y="161.96" font-size="3.45" text-anchor="middle" fill="#555555" color="#555555">63.0%</text>
<text x="440.71" y="200.90" font-size="3.45" text-anchor="middle" fill="#555555" color="#555555">17.6%</text>
<line x1="487.60" y1="223.25" x2="678.50" y2="223.25" stroke="#E9E9E9" stroke-width="0.75"/>
<text x="484.60" y="224.55" font-size="3.6" text-anchor="end" fill="#555555" color="#555555">0.0%</text>
<line x1="487.60" y1="214.16" x2="678.50" y2="214.16" stroke="#E9E9E9" stroke-width="0.75"/>
<text x="484.60" y="215.46" font-size="3.6" text-anchor="end" fill="#555555" color="#555555">10.0%</text>
<line x1="487.60" y1="205.08" x2="678.50" y2="205.08" stroke="#E9E9E9" stroke-width="0.75"/>
<text x="484.60" y="206.38" font-size="3.6" text-anchor="end" fill="#555555" color="#555555">20.0%</text>
<line x1="487.60" y1="196.00" x2="678.50" y2="196.00" stroke="#E9E9E9" stroke-width="0.75"/>
<text x="484.60" y="197.29" font-size="3.6" text-anchor="end" fill="#555555" color="#555555">30.0%</text>
<line x1="487.60" y1="186.91" x2="678.50" y2="186.91" stroke="#E9E9E9" stroke-width="0.75"/>
<text x="484.60" y="188.21" font-size="3.6" text-anchor="end" fill="#555555" color="#555555">40.0%</text>
<line x1="487.60" y1="177.82" x2="678.50" y2="177.82" stroke="#E9E9E9" stroke-width="0.75"/>
<text x="484.60" y="179.12" font-size="3.6" text-anchor="end" fill="#555555" color="#555555">50.0%</text>
<line x1="487.60" y1="168.74" x2="678.50" y2="168.74" stroke="#E9E9E9" stroke-width="0.75"/>
<text x="484.60" y="170.04" font-size="3.6" text-anchor="end" fill="#555555" color="#555555">60.0%</text>
<line x1="487.60" y1="159.66" x2="678.50" y2="159.66" stroke="#E9E9E9" stroke-width="0.75"/>
<text x="484.60" y="160.95" font-size="3.6" text-anchor="end" fill="#555555" color="#555555">70.0%</text>
<line x1="487.60" y1="150.57" x2="678.50" y2="150.57" stroke="#E9E9E9" stroke-width="0.75"/>
<text x="484.60" y="151.87" font-size="3.6" text-anchor="end" fill="#555555" color="#555555">80.0%</text>
<line x1="487.60" y1="141.49" x2="678.50" y2="141.49" stroke="#E9E9E9" stroke-width="0.75"/>
<text x="484.60" y="142.78" font-size="3.6" text-anchor="end" fill="#555555" color="#555555">90.0%</text>
<line x1="487.60" y1="132.40" x2="678.50" y2="132.40" stroke="#E9E9E9" stroke-width="0.75"/>
<text x="484.60" y="133.70" font-size="3.6" text-anchor="end" fill="#555555" color="#555555">100.0%</text>
<text x="506.69" y="229.14" font-size="3.85" text-anchor="middle" fill="#555555" color="#555555">2018</text>
<text x="544.87" y="229.14" font-size="3.85" text-anchor="middle" fill="#555555" color="#555555">2019</text>
<text x="583.05" y="229.14" font-size="3.85" text-anchor="middle" fill="#555555" color="#555555">2020</text>
<text x="621.23" y="229.14" font-size="3.85" text-anchor="middle" fill="#555555" color="#555555">2021</text>
<text x="659.41" y="229.14" font-size="3.85" text-anchor="middle" fill="#555555" color="#555555">2022</text>
<text x="0" y="0" font-size="3.6" text-anchor="middle" fill="#555555" color="#555555" transform="translate(469.70,177.82) rotate(-90)" textLength="57" lengthAdjust="spacingAndGlyphs">Percentage of interventions (%)</text>
<line x1="541.10" y1="236.75" x2="550.60" y2="236.75" stroke="#E2702F" stroke-width="1.1"/>
<circle cx="545.85" cy="236.75" r="1.0" fill="#E2702F"/>
<text x="551.20" y="238.05" font-size="3.6" text-anchor="start" fill="#707070" color="#707070" textLength="9.60" lengthAdjust="spacingAndGlyphs">WVTT</text>
<line x1="563.80" y1="236.75" x2="573.30" y2="236.75" stroke="#1F8FC8" stroke-width="1.1"/>
<circle cx="568.55" cy="236.75" r="1.0" fill="#1F8FC8"/>
<text x="573.90" y="238.05" font-size="3.6" text-anchor="start" fill="#707070" color="#707070" textLength="7.10" lengthAdjust="spacingAndGlyphs">PVP</text>
<line x1="583.90" y1="236.75" x2="593.40" y2="236.75" stroke="#4FA22E" stroke-width="1.1"/>
<circle cx="588.65" cy="236.75" r="1.0" fill="#4FA22E"/>
<text x="594.00" y="238.05" font-size="3.6" text-anchor="start" fill="#707070" color="#707070" textLength="9.60" lengthAdjust="spacingAndGlyphs">Other</text>
<clipPath id="c12"><rect x="487.60" y="132.80" width="190.90" height="90.45"/></clipPath>
<g clip-path="url(#c12)">
<polyline points="506.69,132.40 544.87,132.40 583.05,132.40 621.23,132.40 659.41,132.40" fill="none" stroke="#1F8FC8" stroke-width="1.15" stroke-linejoin="round" stroke-linecap="round"/>
<polyline points="506.69,223.25 544.87,223.25 583.05,223.25 621.23,223.25 659.41,223.25" fill="none" stroke="#4FA22E" stroke-width="1.15" stroke-linejoin="round" stroke-linecap="round"/>
</g>
<circle cx="506.69" cy="132.40" r="1.2" fill="#1F8FC8"/>
<circle cx="544.87" cy="132.40" r="1.2" fill="#1F8FC8"/>
<circle cx="583.05" cy="132.40" r="1.2" fill="#1F8FC8"/>
<circle cx="621.23" cy="132.40" r="1.2" fill="#1F8FC8"/>
<circle cx="659.41" cy="132.40" r="1.2" fill="#1F8FC8"/>
<circle cx="506.69" cy="223.25" r="1.2" fill="#4FA22E"/>
<circle cx="544.87" cy="223.25" r="1.2" fill="#4FA22E"/>
<circle cx="583.05" cy="223.25" r="1.2" fill="#4FA22E"/>
<circle cx="621.23" cy="223.25" r="1.2" fill="#4FA22E"/>
<circle cx="659.41" cy="223.25" r="1.2" fill="#4FA22E"/>
<text x="506.69" y="139.64" font-size="3.45" text-anchor="middle" fill="#555555" color="#555555">100.0%</text>
<text x="544.87" y="139.64" font-size="3.45" text-anchor="middle" fill="#555555" color="#555555">100.0%</text>
<text x="583.05" y="139.64" font-size="3.45" text-anchor="middle" fill="#555555" color="#555555">100.0%</text>
<text x="621.23" y="139.64" font-size="3.45" text-anchor="middle" fill="#555555" color="#555555">100.0%</text>
<text x="659.41" y="139.64" font-size="3.45" text-anchor="middle" fill="#555555" color="#555555">100.0%</text>
<text x="506.69" y="219.19" font-size="3.45" text-anchor="middle" fill="#555555" color="#555555">0.0%</text>
<text x="544.87" y="219.19" font-size="3.45" text-anchor="middle" fill="#555555" color="#555555">0.0%</text>
<text x="583.05" y="219.19" font-size="3.45" text-anchor="middle" fill="#555555" color="#555555">0.0%</text>
<text x="621.23" y="219.19" font-size="3.45" text-anchor="middle" fill="#555555" color="#555555">0.0%</text>
<text x="659.41" y="219.19" font-size="3.45" text-anchor="middle" fill="#555555" color="#555555">0.0%</text>
<line x1="39.80" y1="339.50" x2="230.70" y2="339.50" stroke="#E9E9E9" stroke-width="0.75"/>
<text x="36.80" y="340.80" font-size="3.6" text-anchor="end" fill="#555555" color="#555555">0.0%</text>
<line x1="39.80" y1="330.40" x2="230.70" y2="330.40" stroke="#E9E9E9" stroke-width="0.75"/>
<text x="36.80" y="331.70" font-size="3.6" text-anchor="end" fill="#555555" color="#555555">10.0%</text>
<line x1="39.80" y1="321.31" x2="230.70" y2="321.31" stroke="#E9E9E9" stroke-width="0.75"/>
<text x="36.80" y="322.61" font-size="3.6" text-anchor="end" fill="#555555" color="#555555">20.0%</text>
<line x1="39.80" y1="312.22" x2="230.70" y2="312.22" stroke="#E9E9E9" stroke-width="0.75"/>
<text x="36.80" y="313.51" font-size="3.6" text-anchor="end" fill="#555555" color="#555555">30.0%</text>
<line x1="39.80" y1="303.12" x2="230.70" y2="303.12" stroke="#E9E9E9" stroke-width="0.75"/>
<text x="36.80" y="304.42" font-size="3.6" text-anchor="end" fill="#555555" color="#555555">40.0%</text>
<line x1="39.80" y1="294.02" x2="230.70" y2="294.02" stroke="#E9E9E9" stroke-width="0.75"/>
<text x="36.80" y="295.32" font-size="3.6" text-anchor="end" fill="#555555" color="#555555">50.0%</text>
<line x1="39.80" y1="284.93" x2="230.70" y2="284.93" stroke="#E9E9E9" stroke-width="0.75"/>
<text x="36.80" y="286.23" font-size="3.6" text-anchor="end" fill="#555555" color="#555555">60.0%</text>
<line x1="39.80" y1="275.84" x2="230.70" y2="275.84" stroke="#E9E9E9" stroke-width="0.75"/>
<text x="36.80" y="277.13" font-size="3.6" text-anchor="end" fill="#555555" color="#555555">70.0%</text>
<line x1="39.80" y1="266.74" x2="230.70" y2="266.74" stroke="#E9E9E9" stroke-width="0.75"/>
<text x="36.80" y="268.04" font-size="3.6" text-anchor="end" fill="#555555" color="#555555">80.0%</text>
<line x1="39.80" y1="257.64" x2="230.70" y2="257.64" stroke="#E9E9E9" stroke-width="0.75"/>
<text x="36.80" y="258.94" font-size="3.6" text-anchor="end" fill="#555555" color="#555555">90.0%</text>
<line x1="39.80" y1="248.55" x2="230.70" y2="248.55" stroke="#E9E9E9" stroke-width="0.75"/>
<text x="36.80" y="249.85" font-size="3.6" text-anchor="end" fill="#555555" color="#555555">100.0%</text>
<text x="58.89" y="345.39" font-size="3.85" text-anchor="middle" fill="#555555" color="#555555">2018</text>
<text x="97.07" y="345.39" font-size="3.85" text-anchor="middle" fill="#555555" color="#555555">2019</text>
<text x="135.25" y="345.39" font-size="3.85" text-anchor="middle" fill="#555555" color="#555555">2020</text>
<text x="173.43" y="345.39" font-size="3.85" text-anchor="middle" fill="#555555" color="#555555">2021</text>
<text x="211.61" y="345.39" font-size="3.85" text-anchor="middle" fill="#555555" color="#555555">2022</text>
<text x="0" y="0" font-size="3.6" text-anchor="middle" fill="#555555" color="#555555" transform="translate(21.90,294.02) rotate(-90)" textLength="57" lengthAdjust="spacingAndGlyphs">Percentage of interventions (%)</text>
<line x1="60.80" y1="353.00" x2="70.30" y2="353.00" stroke="#E2702F" stroke-width="1.1"/>
<circle cx="65.55" cy="353.00" r="1.0" fill="#E2702F"/>
<text x="70.90" y="354.30" font-size="3.6" text-anchor="start" fill="#707070" color="#707070" textLength="42.70" lengthAdjust="spacingAndGlyphs">Highly invasive techniques</text>
<line x1="119.60" y1="353.00" x2="129.10" y2="353.00" stroke="#1F8FC8" stroke-width="1.1"/>
<circle cx="124.35" cy="353.00" r="1.0" fill="#1F8FC8"/>
<text x="129.70" y="354.30" font-size="3.6" text-anchor="start" fill="#707070" color="#707070" textLength="32.20" lengthAdjust="spacingAndGlyphs">Invasive techniques</text>
<line x1="167.90" y1="353.00" x2="177.40" y2="353.00" stroke="#4FA22E" stroke-width="1.1"/>
<circle cx="172.65" cy="353.00" r="1.0" fill="#4FA22E"/>
<text x="178.00" y="354.30" font-size="3.6" text-anchor="start" fill="#707070" color="#707070" textLength="10.00" lengthAdjust="spacingAndGlyphs">MISTs</text>
<clipPath id="c20"><rect x="39.80" y="248.95" width="190.90" height="90.55"/></clipPath>
<g clip-path="url(#c20)">
<polyline points="58.89,310.58 97.07,313.67 135.25,309.21 173.43,312.40 211.61,311.49" fill="none" stroke="#E2702F" stroke-width="1.15" stroke-linejoin="round" stroke-linecap="round"/>
<polyline points="58.89,282.75 97.07,282.38 135.25,283.93 173.43,283.38 211.61,289.11" fill="none" stroke="#1F8FC8" stroke-width="1.15" stroke-linejoin="round" stroke-linecap="round"/>
<polyline points="58.89,334.22 97.07,331.50 135.25,334.41 173.43,331.77 211.61,326.95" fill="none" stroke="#4FA22E" stroke-width="1.15" stroke-linejoin="round" stroke-linecap="round"/>
</g>
<circle cx="58.89" cy="310.58" r="1.2" fill="#E2702F"/>
<circle cx="97.07" cy="313.67" r="1.2" fill="#E2702F"/>
<circle cx="135.25" cy="309.21" r="1.2" fill="#E2702F"/>
<circle cx="173.43" cy="312.40" r="1.2" fill="#E2702F"/>
<circle cx="211.61" cy="311.49" r="1.2" fill="#E2702F"/>
<circle cx="58.89" cy="282.75" r="1.2" fill="#1F8FC8"/>
<circle cx="97.07" cy="282.38" r="1.2" fill="#1F8FC8"/>
<circle cx="135.25" cy="283.93" r="1.2" fill="#1F8FC8"/>
<circle cx="173.43" cy="283.38" r="1.2" fill="#1F8FC8"/>
<circle cx="211.61" cy="289.11" r="1.2" fill="#1F8FC8"/>
<circle cx="58.89" cy="334.22" r="1.2" fill="#4FA22E"/>
<circle cx="97.07" cy="331.50" r="1.2" fill="#4FA22E"/>
<circle cx="135.25" cy="334.41" r="1.2" fill="#4FA22E"/>
<circle cx="173.43" cy="331.77" r="1.2" fill="#4FA22E"/>
<circle cx="211.61" cy="326.95" r="1.2" fill="#4FA22E"/>
<text x="58.89" y="306.52" font-size="3.45" text-anchor="middle" fill="#555555" color="#555555">31.8%</text>
<text x="97.07" y="309.61" font-size="3.45" text-anchor="middle" fill="#555555" color="#555555">28.4%</text>
<text x="135.25" y="305.16" font-size="3.45" text-anchor="middle" fill="#555555" color="#555555">33.3%</text>
<text x="173.43" y="308.34" font-size="3.45" text-anchor="middle" fill="#555555" color="#555555">29.8%</text>
<text x="211.61" y="307.43" font-size="3.45" text-anchor="middle" fill="#555555" color="#555555">30.8%</text>
<text x="58.89" y="278.69" font-size="3.45" text-anchor="middle" fill="#555555" color="#555555">62.4%</text>
<text x="97.07" y="278.33" font-size="3.45" text-anchor="middle" fill="#555555" color="#555555">62.8%</text>
<text x="135.25" y="279.87" font-size="3.45" text-anchor="middle" fill="#555555" color="#555555">61.1%</text>
<text x="173.43" y="279.33" font-size="3.45" text-anchor="middle" fill="#555555" color="#555555">61.7%</text>
<text x="211.61" y="285.06" font-size="3.45" text-anchor="middle" fill="#555555" color="#555555">55.4%</text>
<text x="58.89" y="330.17" font-size="3.45" text-anchor="middle" fill="#555555" color="#555555">5.8%</text>
<text x="97.07" y="327.44" font-size="3.45" text-anchor="middle" fill="#555555" color="#555555">8.8%</text>
<text x="135.25" y="330.35" font-size="3.45" text-anchor="middle" fill="#555555" color="#555555">5.6%</text>
<text x="173.43" y="327.71" font-size="3.45" text-anchor="middle" fill="#555555" color="#555555">8.5%</text>
<text x="211.61" y="322.89" font-size="3.45" text-anchor="middle" fill="#555555" color="#555555">13.8%</text>
<line x1="263.70" y1="339.50" x2="454.60" y2="339.50" stroke="#E9E9E9" stroke-width="0.75"/>
<text x="260.70" y="340.80" font-size="3.6" text-anchor="end" fill="#555555" color="#555555">0.0%</text>
<line x1="263.70" y1="330.40" x2="454.60" y2="330.40" stroke="#E9E9E9" stroke-width="0.75"/>
<text x="260.70" y="331.70" font-size="3.6" text-anchor="end" fill="#555555" color="#555555">10.0%</text>
<line x1="263.70" y1="321.31" x2="454.60" y2="321.31" stroke="#E9E9E9" stroke-width="0.75"/>
<text x="260.70" y="322.61" font-size="3.6" text-anchor="end" fill="#555555" color="#555555">20.0%</text>
<line x1="263.70" y1="312.22" x2="454.60" y2="312.22" stroke="#E9E9E9" stroke-width="0.75"/>
<text x="260.70" y="313.51" font-size="3.6" text-anchor="end" fill="#555555" color="#555555">30.0%</text>
<line x1="263.70" y1="303.12" x2="454.60" y2="303.12" stroke="#E9E9E9" stroke-width="0.75"/>
<text x="260.70" y="304.42" font-size="3.6" text-anchor="end" fill="#555555" color="#555555">40.0%</text>
<line x1="263.70" y1="294.02" x2="454.60" y2="294.02" stroke="#E9E9E9" stroke-width="0.75"/>
<text x="260.70" y="295.32" font-size="3.6" text-anchor="end" fill="#555555" color="#555555">50.0%</text>
<line x1="263.70" y1="284.93" x2="454.60" y2="284.93" stroke="#E9E9E9" stroke-width="0.75"/>
<text x="260.70" y="286.23" font-size="3.6" text-anchor="end" fill="#555555" color="#555555">60.0%</text>
<line x1="263.70" y1="275.84" x2="454.60" y2="275.84" stroke="#E9E9E9" stroke-width="0.75"/>
<text x="260.70" y="277.13" font-size="3.6" text-anchor="end" fill="#555555" color="#555555">70.0%</text>
<line x1="263.70" y1="266.74" x2="454.60" y2="266.74" stroke="#E9E9E9" stroke-width="0.75"/>
<text x="260.70" y="268.04" font-size="3.6" text-anchor="end" fill="#555555" color="#555555">80.0%</text>
<line x1="263.70" y1="257.64" x2="454.60" y2="257.64" stroke="#E9E9E9" stroke-width="0.75"/>
<text x="260.70" y="258.94" font-size="3.6" text-anchor="end" fill="#555555" color="#555555">90.0%</text>
<line x1="263.70" y1="248.55" x2="454.60" y2="248.55" stroke="#E9E9E9" stroke-width="0.75"/>
<text x="260.70" y="249.85" font-size="3.6" text-anchor="end" fill="#555555" color="#555555">100.0%</text>
<text x="282.79" y="345.39" font-size="3.85" text-anchor="middle" fill="#555555" color="#555555">2018</text>
<text x="320.97" y="345.39" font-size="3.85" text-anchor="middle" fill="#555555" color="#555555">2019</text>
<text x="359.15" y="345.39" font-size="3.85" text-anchor="middle" fill="#555555" color="#555555">2020</text>
<text x="397.33" y="345.39" font-size="3.85" text-anchor="middle" fill="#555555" color="#555555">2021</text>
<text x="435.51" y="345.39" font-size="3.85" text-anchor="middle" fill="#555555" color="#555555">2022</text>
<text x="0" y="0" font-size="3.6" text-anchor="middle" fill="#555555" color="#555555" transform="translate(245.80,294.02) rotate(-90)" textLength="57" lengthAdjust="spacingAndGlyphs">Percentage of interventions (%)</text>
<line x1="296.00" y1="353.00" x2="305.50" y2="353.00" stroke="#E2702F" stroke-width="1.1"/>
<circle cx="300.75" cy="353.00" r="1.0" fill="#E2702F"/>
<text x="306.10" y="354.30" font-size="3.6" text-anchor="start" fill="#707070" color="#707070" textLength="46.40" lengthAdjust="spacingAndGlyphs">Laparoscopic prostatectomy</text>
<line x1="357.80" y1="353.00" x2="367.30" y2="353.00" stroke="#1F8FC8" stroke-width="1.1"/>
<circle cx="362.55" cy="353.00" r="1.0" fill="#1F8FC8"/>
<text x="367.90" y="354.30" font-size="3.6" text-anchor="start" fill="#707070" color="#707070" textLength="8.70" lengthAdjust="spacingAndGlyphs">TURP</text>
<line x1="381.80" y1="353.00" x2="391.30" y2="353.00" stroke="#4FA22E" stroke-width="1.1"/>
<circle cx="386.55" cy="353.00" r="1.0" fill="#4FA22E"/>
<text x="391.90" y="354.30" font-size="3.6" text-anchor="start" fill="#707070" color="#707070" textLength="8.20" lengthAdjust="spacingAndGlyphs">AEEP</text>
<clipPath id="c21"><rect x="263.70" y="248.95" width="190.90" height="90.55"/></clipPath>
<g clip-path="url(#c21)">
<polyline points="282.79,339.50 320.97,339.50 359.15,339.50" fill="none" stroke="#E2702F" stroke-width="1.15" stroke-linejoin="round" stroke-linecap="round"/>
<polyline points="282.79,252.01 320.97,255.64 359.15,248.55 397.33,248.55 435.51,248.55" fill="none" stroke="#1F8FC8" stroke-width="1.15" stroke-linejoin="round" stroke-linecap="round"/>
<polyline points="282.79,336.04 320.97,332.41 359.15,339.50 397.33,339.50 435.51,339.50" fill="none" stroke="#4FA22E" stroke-width="1.15" stroke-linejoin="round" stroke-linecap="round"/>
</g>
<circle cx="282.79" cy="339.50" r="1.2" fill="#E2702F"/>
<circle cx="320.97" cy="339.50" r="1.2" fill="#E2702F"/>
<circle cx="282.79" cy="252.01" r="1.2" fill="#1F8FC8"/>
<circle cx="320.97" cy="255.64" r="1.2" fill="#1F8FC8"/>
<circle cx="359.15" cy="248.55" r="1.2" fill="#1F8FC8"/>
<circle cx="397.33" cy="248.55" r="1.2" fill="#1F8FC8"/>
<circle cx="435.51" cy="248.55" r="1.2" fill="#1F8FC8"/>
<circle cx="282.79" cy="336.04" r="1.2" fill="#4FA22E"/>
<circle cx="320.97" cy="332.41" r="1.2" fill="#4FA22E"/>
<circle cx="359.15" cy="339.50" r="1.2" fill="#4FA22E"/>
<circle cx="397.33" cy="339.50" r="1.2" fill="#4FA22E"/>
<circle cx="435.51" cy="339.50" r="1.2" fill="#4FA22E"/>
<text x="276.29" y="337.04" font-size="3.45" text-anchor="middle" fill="#555555" color="#555555">0.0%</text>
<text x="320.97" y="335.44" font-size="3.45" text-anchor="middle" fill="#555555" color="#555555">0.0%</text>
<text x="282.79" y="259.25" font-size="3.45" text-anchor="middle" fill="#555555" color="#555555">96.2%</text>
<text x="320.97" y="262.89" font-size="3.45" text-anchor="middle" fill="#555555" color="#555555">92.2%</text>
<text x="359.15" y="255.79" font-size="3.45" text-anchor="middle" fill="#555555" color="#555555">100.0%</text>
<text x="397.33" y="255.79" font-size="3.45" text-anchor="middle" fill="#555555" color="#555555">100.0%</text>
<text x="435.51" y="255.79" font-size="3.45" text-anchor="middle" fill="#555555" color="#555555">100.0%</text>
<text x="282.79" y="331.99" font-size="3.45" text-anchor="middle" fill="#555555" color="#555555">3.8%</text>
<text x="320.97" y="328.35" font-size="3.45" text-anchor="middle" fill="#555555" color="#555555">7.8%</text>
<text x="359.15" y="335.44" font-size="3.45" text-anchor="middle" fill="#555555" color="#555555">0.0%</text>
<text x="397.33" y="335.44" font-size="3.45" text-anchor="middle" fill="#555555" color="#555555">0.0%</text>
<text x="435.51" y="335.44" font-size="3.45" text-anchor="middle" fill="#555555" color="#555555">0.0%</text>
<line x1="487.60" y1="339.50" x2="678.50" y2="339.50" stroke="#E9E9E9" stroke-width="0.75"/>
<text x="484.60" y="340.80" font-size="3.6" text-anchor="end" fill="#555555" color="#555555">0.0%</text>
<line x1="487.60" y1="330.40" x2="678.50" y2="330.40" stroke="#E9E9E9" stroke-width="0.75"/>
<text x="484.60" y="331.70" font-size="3.6" text-anchor="end" fill="#555555" color="#555555">10.0%</text>
<line x1="487.60" y1="321.31" x2="678.50" y2="321.31" stroke="#E9E9E9" stroke-width="0.75"/>
<text x="484.60" y="322.61" font-size="3.6" text-anchor="end" fill="#555555" color="#555555">20.0%</text>
<line x1="487.60" y1="312.22" x2="678.50" y2="312.22" stroke="#E9E9E9" stroke-width="0.75"/>
<text x="484.60" y="313.51" font-size="3.6" text-anchor="end" fill="#555555" color="#555555">30.0%</text>
<line x1="487.60" y1="303.12" x2="678.50" y2="303.12" stroke="#E9E9E9" stroke-width="0.75"/>
<text x="484.60" y="304.42" font-size="3.6" text-anchor="end" fill="#555555" color="#555555">40.0%</text>
<line x1="487.60" y1="294.02" x2="678.50" y2="294.02" stroke="#E9E9E9" stroke-width="0.75"/>
<text x="484.60" y="295.32" font-size="3.6" text-anchor="end" fill="#555555" color="#555555">50.0%</text>
<line x1="487.60" y1="284.93" x2="678.50" y2="284.93" stroke="#E9E9E9" stroke-width="0.75"/>
<text x="484.60" y="286.23" font-size="3.6" text-anchor="end" fill="#555555" color="#555555">60.0%</text>
<line x1="487.60" y1="275.84" x2="678.50" y2="275.84" stroke="#E9E9E9" stroke-width="0.75"/>
<text x="484.60" y="277.13" font-size="3.6" text-anchor="end" fill="#555555" color="#555555">70.0%</text>
<line x1="487.60" y1="266.74" x2="678.50" y2="266.74" stroke="#E9E9E9" stroke-width="0.75"/>
<text x="484.60" y="268.04" font-size="3.6" text-anchor="end" fill="#555555" color="#555555">80.0%</text>
<line x1="487.60" y1="257.64" x2="678.50" y2="257.64" stroke="#E9E9E9" stroke-width="0.75"/>
<text x="484.60" y="258.94" font-size="3.6" text-anchor="end" fill="#555555" color="#555555">90.0%</text>
<line x1="487.60" y1="248.55" x2="678.50" y2="248.55" stroke="#E9E9E9" stroke-width="0.75"/>
<text x="484.60" y="249.85" font-size="3.6" text-anchor="end" fill="#555555" color="#555555">100.0%</text>
<text x="506.69" y="345.39" font-size="3.85" text-anchor="middle" fill="#555555" color="#555555">2018</text>
<text x="544.87" y="345.39" font-size="3.85" text-anchor="middle" fill="#555555" color="#555555">2019</text>
<text x="583.05" y="345.39" font-size="3.85" text-anchor="middle" fill="#555555" color="#555555">2020</text>
<text x="621.23" y="345.39" font-size="3.85" text-anchor="middle" fill="#555555" color="#555555">2021</text>
<text x="659.41" y="345.39" font-size="3.85" text-anchor="middle" fill="#555555" color="#555555">2022</text>
<text x="0" y="0" font-size="3.6" text-anchor="middle" fill="#555555" color="#555555" transform="translate(469.70,294.02) rotate(-90)" textLength="57" lengthAdjust="spacingAndGlyphs">Percentage of interventions (%)</text>
<line x1="541.10" y1="353.00" x2="550.60" y2="353.00" stroke="#E2702F" stroke-width="1.1"/>
<circle cx="545.85" cy="353.00" r="1.0" fill="#E2702F"/>
<text x="551.20" y="354.30" font-size="3.6" text-anchor="start" fill="#707070" color="#707070" textLength="9.60" lengthAdjust="spacingAndGlyphs">WVTT</text>
<line x1="563.80" y1="353.00" x2="573.30" y2="353.00" stroke="#1F8FC8" stroke-width="1.1"/>
<circle cx="568.55" cy="353.00" r="1.0" fill="#1F8FC8"/>
<text x="573.90" y="354.30" font-size="3.6" text-anchor="start" fill="#707070" color="#707070" textLength="7.10" lengthAdjust="spacingAndGlyphs">PVP</text>
<line x1="583.90" y1="353.00" x2="593.40" y2="353.00" stroke="#4FA22E" stroke-width="1.1"/>
<circle cx="588.65" cy="353.00" r="1.0" fill="#4FA22E"/>
<text x="594.00" y="354.30" font-size="3.6" text-anchor="start" fill="#707070" color="#707070" textLength="9.60" lengthAdjust="spacingAndGlyphs">Other</text>
<clipPath id="c22"><rect x="487.60" y="248.95" width="190.90" height="90.55"/></clipPath>
<g clip-path="url(#c22)">
<polyline points="506.69,248.55 544.87,248.55 583.05,248.55 621.23,248.55 659.41,248.55" fill="none" stroke="#1F8FC8" stroke-width="1.15" stroke-linejoin="round" stroke-linecap="round"/>
<polyline points="506.69,339.50 544.87,339.50 583.05,339.50 621.23,339.50 659.41,339.50" fill="none" stroke="#4FA22E" stroke-width="1.15" stroke-linejoin="round" stroke-linecap="round"/>
</g>
<circle cx="506.69" cy="248.55" r="1.2" fill="#1F8FC8"/>
<circle cx="544.87" cy="248.55" r="1.2" fill="#1F8FC8"/>
<circle cx="583.05" cy="248.55" r="1.2" fill="#1F8FC8"/>
<circle cx="621.23" cy="248.55" r="1.2" fill="#1F8FC8"/>
<circle cx="659.41" cy="248.55" r="1.2" fill="#1F8FC8"/>
<circle cx="506.69" cy="339.50" r="1.2" fill="#4FA22E"/>
<circle cx="544.87" cy="339.50" r="1.2" fill="#4FA22E"/>
<circle cx="583.05" cy="339.50" r="1.2" fill="#4FA22E"/>
<circle cx="621.23" cy="339.50" r="1.2" fill="#4FA22E"/>
<circle cx="659.41" cy="339.50" r="1.2" fill="#4FA22E"/>
<text x="506.69" y="255.79" font-size="3.45" text-anchor="middle" fill="#555555" color="#555555">100.0%</text>
<text x="544.87" y="255.79" font-size="3.45" text-anchor="middle" fill="#555555" color="#555555">100.0%</text>
<text x="583.05" y="255.79" font-size="3.45" text-anchor="middle" fill="#555555" color="#555555">100.0%</text>
<text x="621.23" y="255.79" font-size="3.45" text-anchor="middle" fill="#555555" color="#555555">100.0%</text>
<text x="659.41" y="255.79" font-size="3.45" text-anchor="middle" fill="#555555" color="#555555">100.0%</text>
<text x="506.69" y="335.44" font-size="3.45" text-anchor="middle" fill="#555555" color="#555555">0.0%</text>
<text x="544.87" y="335.44" font-size="3.45" text-anchor="middle" fill="#555555" color="#555555">0.0%</text>
<text x="583.05" y="335.44" font-size="3.45" text-anchor="middle" fill="#555555" color="#555555">0.0%</text>
<text x="621.23" y="335.44" font-size="3.45" text-anchor="middle" fill="#555555" color="#555555">0.0%</text>
<text x="659.41" y="335.44" font-size="3.45" text-anchor="middle" fill="#555555" color="#555555">0.0%</text>
<rect x="10.20" y="374.40" width="671.10" height="348.00" fill="#fff" stroke="#E2E2E2" stroke-width="0.9"/>
<line x1="233.70" y1="374.40" x2="233.70" y2="722.40" stroke="#E2E2E2" stroke-width="0.9"/>
<line x1="457.50" y1="374.40" x2="457.50" y2="722.40" stroke="#E2E2E2" stroke-width="0.9"/>
<line x1="10.20" y1="490.40" x2="681.30" y2="490.40" stroke="#E2E2E2" stroke-width="0.9"/>
<line x1="10.20" y1="606.30" x2="681.30" y2="606.30" stroke="#E2E2E2" stroke-width="0.9"/>
<text x="122.40" y="371.09" font-size="4.15" text-anchor="middle" fill="#000" color="#000" font-weight="bold">All procedures</text>
<text x="346.20" y="371.09" font-size="4.15" text-anchor="middle" fill="#000" color="#000" font-weight="bold">Invasive techniques</text>
<text x="570.00" y="371.09" font-size="4.15" text-anchor="middle" fill="#000" color="#000" font-weight="bold">MISTs</text>
<text x="0" y="0" font-size="4.15" text-anchor="middle" font-weight="bold" fill="#000" color="#000" transform="translate(6.29,432.20) rotate(-90)">Hospital 3</text>
<text x="0" y="0" font-size="4.15" text-anchor="middle" font-weight="bold" fill="#000" color="#000" transform="translate(6.29,548.15) rotate(-90)">Hospital 4</text>
<text x="0" y="0" font-size="4.15" text-anchor="middle" font-weight="bold" fill="#000" color="#000" transform="translate(6.29,664.15) rotate(-90)">Hospital 5</text>
<line x1="38.35" y1="469.50" x2="228.85" y2="469.50" stroke="#E9E9E9" stroke-width="0.75"/>
<text x="35.35" y="470.80" font-size="3.6" text-anchor="end" fill="#555555" color="#555555">0.0%</text>
<line x1="38.35" y1="460.50" x2="228.85" y2="460.50" stroke="#E9E9E9" stroke-width="0.75"/>
<text x="35.35" y="461.79" font-size="3.6" text-anchor="end" fill="#555555" color="#555555">10.0%</text>
<line x1="38.35" y1="451.49" x2="228.85" y2="451.49" stroke="#E9E9E9" stroke-width="0.75"/>
<text x="35.35" y="452.79" font-size="3.6" text-anchor="end" fill="#555555" color="#555555">20.0%</text>
<line x1="38.35" y1="442.49" x2="228.85" y2="442.49" stroke="#E9E9E9" stroke-width="0.75"/>
<text x="35.35" y="443.78" font-size="3.6" text-anchor="end" fill="#555555" color="#555555">30.0%</text>
<line x1="38.35" y1="433.48" x2="228.85" y2="433.48" stroke="#E9E9E9" stroke-width="0.75"/>
<text x="35.35" y="434.78" font-size="3.6" text-anchor="end" fill="#555555" color="#555555">40.0%</text>
<line x1="38.35" y1="424.48" x2="228.85" y2="424.48" stroke="#E9E9E9" stroke-width="0.75"/>
<text x="35.35" y="425.77" font-size="3.6" text-anchor="end" fill="#555555" color="#555555">50.0%</text>
<line x1="38.35" y1="415.47" x2="228.85" y2="415.47" stroke="#E9E9E9" stroke-width="0.75"/>
<text x="35.35" y="416.77" font-size="3.6" text-anchor="end" fill="#555555" color="#555555">60.0%</text>
<line x1="38.35" y1="406.46" x2="228.85" y2="406.46" stroke="#E9E9E9" stroke-width="0.75"/>
<text x="35.35" y="407.76" font-size="3.6" text-anchor="end" fill="#555555" color="#555555">70.0%</text>
<line x1="38.35" y1="397.46" x2="228.85" y2="397.46" stroke="#E9E9E9" stroke-width="0.75"/>
<text x="35.35" y="398.76" font-size="3.6" text-anchor="end" fill="#555555" color="#555555">80.0%</text>
<line x1="38.35" y1="388.45" x2="228.85" y2="388.45" stroke="#E9E9E9" stroke-width="0.75"/>
<text x="35.35" y="389.75" font-size="3.6" text-anchor="end" fill="#555555" color="#555555">90.0%</text>
<line x1="38.35" y1="379.45" x2="228.85" y2="379.45" stroke="#E9E9E9" stroke-width="0.75"/>
<text x="35.35" y="380.75" font-size="3.6" text-anchor="end" fill="#555555" color="#555555">100.0%</text>
<text x="57.40" y="475.39" font-size="3.85" text-anchor="middle" fill="#555555" color="#555555">2018</text>
<text x="95.50" y="475.39" font-size="3.85" text-anchor="middle" fill="#555555" color="#555555">2019</text>
<text x="133.60" y="475.39" font-size="3.85" text-anchor="middle" fill="#555555" color="#555555">2020</text>
<text x="171.70" y="475.39" font-size="3.85" text-anchor="middle" fill="#555555" color="#555555">2021</text>
<text x="209.80" y="475.39" font-size="3.85" text-anchor="middle" fill="#555555" color="#555555">2022</text>
<text x="0" y="0" font-size="3.6" text-anchor="middle" fill="#555555" color="#555555" transform="translate(18.90,424.48) rotate(-90)" textLength="57" lengthAdjust="spacingAndGlyphs">Percentage of interventions (%)</text>
<line x1="59.30" y1="483.00" x2="68.80" y2="483.00" stroke="#E2702F" stroke-width="1.1"/>
<circle cx="64.05" cy="483.00" r="1.0" fill="#E2702F"/>
<text x="69.40" y="484.30" font-size="3.6" text-anchor="start" fill="#707070" color="#707070" textLength="42.70" lengthAdjust="spacingAndGlyphs">Highly invasive techniques</text>
<line x1="118.10" y1="483.00" x2="127.60" y2="483.00" stroke="#1F8FC8" stroke-width="1.1"/>
<circle cx="122.85" cy="483.00" r="1.0" fill="#1F8FC8"/>
<text x="128.20" y="484.30" font-size="3.6" text-anchor="start" fill="#707070" color="#707070" textLength="32.20" lengthAdjust="spacingAndGlyphs">Invasive techniques</text>
<line x1="166.40" y1="483.00" x2="175.90" y2="483.00" stroke="#4FA22E" stroke-width="1.1"/>
<circle cx="171.15" cy="483.00" r="1.0" fill="#4FA22E"/>
<text x="176.50" y="484.30" font-size="3.6" text-anchor="start" fill="#707070" color="#707070" textLength="10.00" lengthAdjust="spacingAndGlyphs">MISTs</text>
<clipPath id="c30"><rect x="38.35" y="379.85" width="190.50" height="89.65"/></clipPath>
<g>
<polyline points="57.40,439.06 95.50,451.85 133.60,456.62 171.70,459.05 209.80,463.83" fill="none" stroke="#E2702F" stroke-width="1.15" stroke-linejoin="round" stroke-linecap="round"/>
<polyline points="57.40,430.33 95.50,426.01 133.60,418.08 171.70,415.83 209.80,407.55" fill="none" stroke="#1F8FC8" stroke-width="1.15" stroke-linejoin="round" stroke-linecap="round"/>
<polyline points="57.40,449.15 95.50,440.59 133.60,443.75 171.70,443.57 209.80,446.99" fill="none" stroke="#4FA22E" stroke-width="1.15" stroke-linejoin="round" stroke-linecap="round"/>
</g>
<circle cx="57.40" cy="439.06" r="1.2" fill="#E2702F"/>
<circle cx="95.50" cy="451.85" r="1.2" fill="#E2702F"/>
<circle cx="133.60" cy="456.62" r="1.2" fill="#E2702F"/>
<circle cx="171.70" cy="459.05" r="1.2" fill="#E2702F"/>
<circle cx="209.80" cy="463.83" r="1.2" fill="#E2702F"/>
<circle cx="57.40" cy="430.33" r="1.2" fill="#1F8FC8"/>
<circle cx="95.50" cy="426.01" r="1.2" fill="#1F8FC8"/>
<circle cx="133.60" cy="418.08" r="1.2" fill="#1F8FC8"/>
<circle cx="171.70" cy="415.83" r="1.2" fill="#1F8FC8"/>
<circle cx="209.80" cy="407.55" r="1.2" fill="#1F8FC8"/>
<circle cx="57.40" cy="449.15" r="1.2" fill="#4FA22E"/>
<circle cx="95.50" cy="440.59" r="1.2" fill="#4FA22E"/>
<circle cx="133.60" cy="443.75" r="1.2" fill="#4FA22E"/>
<circle cx="171.70" cy="443.57" r="1.2" fill="#4FA22E"/>
<circle cx="209.80" cy="446.99" r="1.2" fill="#4FA22E"/>
<text x="57.40" y="435.01" font-size="3.45" text-anchor="middle" fill="#555555" color="#555555">33.8%</text>
<text x="95.50" y="447.79" font-size="3.45" text-anchor="middle" fill="#555555" color="#555555">19.6%</text>
<text x="133.60" y="452.56" font-size="3.45" text-anchor="middle" fill="#555555" color="#555555">14.3%</text>
<text x="171.70" y="455.00" font-size="3.45" text-anchor="middle" fill="#555555" color="#555555">11.6%</text>
<text x="209.80" y="459.77" font-size="3.45" text-anchor="middle" fill="#555555" color="#555555">6.3%</text>
<text x="57.40" y="426.27" font-size="3.45" text-anchor="middle" fill="#555555" color="#555555">43.5%</text>
<text x="95.50" y="421.95" font-size="3.45" text-anchor="middle" fill="#555555" color="#555555">48.3%</text>
<text x="133.60" y="414.02" font-size="3.45" text-anchor="middle" fill="#555555" color="#555555">57.1%</text>
<text x="171.70" y="411.77" font-size="3.45" text-anchor="middle" fill="#555555" color="#555555">59.6%</text>
<text x="209.80" y="403.49" font-size="3.45" text-anchor="middle" fill="#555555" color="#555555">68.8%</text>
<text x="57.40" y="445.09" font-size="3.45" text-anchor="middle" fill="#555555" color="#555555">22.6%</text>
<text x="95.50" y="436.54" font-size="3.45" text-anchor="middle" fill="#555555" color="#555555">32.1%</text>
<text x="133.60" y="439.69" font-size="3.45" text-anchor="middle" fill="#555555" color="#555555">28.6%</text>
<text x="171.70" y="439.51" font-size="3.45" text-anchor="middle" fill="#555555" color="#555555">28.8%</text>
<text x="209.80" y="442.93" font-size="3.45" text-anchor="middle" fill="#555555" color="#555555">25.0%</text>
<line x1="262.15" y1="469.50" x2="452.65" y2="469.50" stroke="#E9E9E9" stroke-width="0.75"/>
<text x="259.15" y="470.80" font-size="3.6" text-anchor="end" fill="#555555" color="#555555">0.0%</text>
<line x1="262.15" y1="460.50" x2="452.65" y2="460.50" stroke="#E9E9E9" stroke-width="0.75"/>
<text x="259.15" y="461.79" font-size="3.6" text-anchor="end" fill="#555555" color="#555555">10.0%</text>
<line x1="262.15" y1="451.49" x2="452.65" y2="451.49" stroke="#E9E9E9" stroke-width="0.75"/>
<text x="259.15" y="452.79" font-size="3.6" text-anchor="end" fill="#555555" color="#555555">20.0%</text>
<line x1="262.15" y1="442.49" x2="452.65" y2="442.49" stroke="#E9E9E9" stroke-width="0.75"/>
<text x="259.15" y="443.78" font-size="3.6" text-anchor="end" fill="#555555" color="#555555">30.0%</text>
<line x1="262.15" y1="433.48" x2="452.65" y2="433.48" stroke="#E9E9E9" stroke-width="0.75"/>
<text x="259.15" y="434.78" font-size="3.6" text-anchor="end" fill="#555555" color="#555555">40.0%</text>
<line x1="262.15" y1="424.48" x2="452.65" y2="424.48" stroke="#E9E9E9" stroke-width="0.75"/>
<text x="259.15" y="425.77" font-size="3.6" text-anchor="end" fill="#555555" color="#555555">50.0%</text>
<line x1="262.15" y1="415.47" x2="452.65" y2="415.47" stroke="#E9E9E9" stroke-width="0.75"/>
<text x="259.15" y="416.77" font-size="3.6" text-anchor="end" fill="#555555" color="#555555">60.0%</text>
<line x1="262.15" y1="406.46" x2="452.65" y2="406.46" stroke="#E9E9E9" stroke-width="0.75"/>
<text x="259.15" y="407.76" font-size="3.6" text-anchor="end" fill="#555555" color="#555555">70.0%</text>
<line x1="262.15" y1="397.46" x2="452.65" y2="397.46" stroke="#E9E9E9" stroke-width="0.75"/>
<text x="259.15" y="398.76" font-size="3.6" text-anchor="end" fill="#555555" color="#555555">80.0%</text>
<line x1="262.15" y1="388.45" x2="452.65" y2="388.45" stroke="#E9E9E9" stroke-width="0.75"/>
<text x="259.15" y="389.75" font-size="3.6" text-anchor="end" fill="#555555" color="#555555">90.0%</text>
<line x1="262.15" y1="379.45" x2="452.65" y2="379.45" stroke="#E9E9E9" stroke-width="0.75"/>
<text x="259.15" y="380.75" font-size="3.6" text-anchor="end" fill="#555555" color="#555555">100.0%</text>
<text x="281.20" y="475.39" font-size="3.85" text-anchor="middle" fill="#555555" color="#555555">2018</text>
<text x="319.30" y="475.39" font-size="3.85" text-anchor="middle" fill="#555555" color="#555555">2019</text>
<text x="357.40" y="475.39" font-size="3.85" text-anchor="middle" fill="#555555" color="#555555">2020</text>
<text x="395.50" y="475.39" font-size="3.85" text-anchor="middle" fill="#555555" color="#555555">2021</text>
<text x="433.60" y="475.39" font-size="3.85" text-anchor="middle" fill="#555555" color="#555555">2022</text>
<text x="0" y="0" font-size="3.6" text-anchor="middle" fill="#555555" color="#555555" transform="translate(242.70,424.48) rotate(-90)" textLength="57" lengthAdjust="spacingAndGlyphs">Percentage of interventions (%)</text>
<line x1="294.40" y1="483.00" x2="303.90" y2="483.00" stroke="#E2702F" stroke-width="1.1"/>
<circle cx="299.15" cy="483.00" r="1.0" fill="#E2702F"/>
<text x="304.50" y="484.30" font-size="3.6" text-anchor="start" fill="#707070" color="#707070" textLength="46.40" lengthAdjust="spacingAndGlyphs">Laparoscopic prostatectomy</text>
<line x1="356.20" y1="483.00" x2="365.70" y2="483.00" stroke="#1F8FC8" stroke-width="1.1"/>
<circle cx="360.95" cy="483.00" r="1.0" fill="#1F8FC8"/>
<text x="366.30" y="484.30" font-size="3.6" text-anchor="start" fill="#707070" color="#707070" textLength="8.70" lengthAdjust="spacingAndGlyphs">TURP</text>
<line x1="380.20" y1="483.00" x2="389.70" y2="483.00" stroke="#4FA22E" stroke-width="1.1"/>
<circle cx="384.95" cy="483.00" r="1.0" fill="#4FA22E"/>
<text x="390.30" y="484.30" font-size="3.6" text-anchor="start" fill="#707070" color="#707070" textLength="8.20" lengthAdjust="spacingAndGlyphs">AEEP</text>
<clipPath id="c31"><rect x="262.15" y="379.85" width="190.50" height="89.65"/></clipPath>
<g>
<polyline points="281.20,469.50 319.30,469.50 357.40,469.50 395.50,467.43 433.60,469.50" fill="none" stroke="#E2702F" stroke-width="1.15" stroke-linejoin="round" stroke-linecap="round"/>
<polyline points="281.20,387.64 319.30,403.13 357.40,419.61 395.50,432.22 433.60,427.36" fill="none" stroke="#1F8FC8" stroke-width="1.15" stroke-linejoin="round" stroke-linecap="round"/>
<polyline points="281.20,461.31 319.30,445.82 357.40,429.34 395.50,418.80 433.60,421.59" fill="none" stroke="#4FA22E" stroke-width="1.15" stroke-linejoin="round" stroke-linecap="round"/>
</g>
<circle cx="281.20" cy="469.50" r="1.2" fill="#E2702F"/>
<circle cx="319.30" cy="469.50" r="1.2" fill="#E2702F"/>
<circle cx="357.40" cy="469.50" r="1.2" fill="#E2702F"/>
<circle cx="395.50" cy="467.43" r="1.2" fill="#E2702F"/>
<circle cx="433.60" cy="469.50" r="1.2" fill="#E2702F"/>
<circle cx="281.20" cy="387.64" r="1.2" fill="#1F8FC8"/>
<circle cx="319.30" cy="403.13" r="1.2" fill="#1F8FC8"/>
<circle cx="357.40" cy="419.61" r="1.2" fill="#1F8FC8"/>
<circle cx="395.50" cy="432.22" r="1.2" fill="#1F8FC8"/>
<circle cx="433.60" cy="427.36" r="1.2" fill="#1F8FC8"/>
<circle cx="281.20" cy="461.31" r="1.2" fill="#4FA22E"/>
<circle cx="319.30" cy="445.82" r="1.2" fill="#4FA22E"/>
<circle cx="357.40" cy="429.34" r="1.2" fill="#4FA22E"/>
<circle cx="395.50" cy="418.80" r="1.2" fill="#4FA22E"/>
<circle cx="433.60" cy="421.59" r="1.2" fill="#4FA22E"/>
<text x="281.20" y="465.44" font-size="3.45" text-anchor="middle" fill="#555555" color="#555555">0.0%</text>
<text x="319.30" y="465.44" font-size="3.45" text-anchor="middle" fill="#555555" color="#555555">0.0%</text>
<text x="357.40" y="465.44" font-size="3.45" text-anchor="middle" fill="#555555" color="#555555">0.0%</text>
<text x="395.50" y="463.37" font-size="3.45" text-anchor="middle" fill="#555555" color="#555555">2.3%</text>
<text x="433.60" y="465.44" font-size="3.45" text-anchor="middle" fill="#555555" color="#555555">0.0%</text>
<text x="281.20" y="383.59" font-size="3.45" text-anchor="middle" fill="#555555" color="#555555">90.9%</text>
<text x="319.30" y="399.08" font-size="3.45" text-anchor="middle" fill="#555555" color="#555555">73.7%</text>
<text x="357.40" y="415.55" font-size="3.45" text-anchor="middle" fill="#555555" color="#555555">55.4%</text>
<text x="395.50" y="428.16" font-size="3.45" text-anchor="middle" fill="#555555" color="#555555">41.4%</text>
<text x="433.60" y="434.60" font-size="3.45" text-anchor="middle" fill="#555555" color="#555555">46.8%</text>
<text x="281.20" y="457.25" font-size="3.45" text-anchor="middle" fill="#555555" color="#555555">9.1%</text>
<text x="319.30" y="441.76" font-size="3.45" text-anchor="middle" fill="#555555" color="#555555">26.3%</text>
<text x="357.40" y="436.58" font-size="3.45" text-anchor="middle" fill="#555555" color="#555555">44.6%</text>
<text x="395.50" y="414.74" font-size="3.45" text-anchor="middle" fill="#555555" color="#555555">56.3%</text>
<text x="433.60" y="417.54" font-size="3.45" text-anchor="middle" fill="#555555" color="#555555">53.2%</text>
<line x1="485.95" y1="469.50" x2="676.45" y2="469.50" stroke="#E9E9E9" stroke-width="0.75"/>
<text x="482.95" y="470.80" font-size="3.6" text-anchor="end" fill="#555555" color="#555555">0.0%</text>
<line x1="485.95" y1="460.50" x2="676.45" y2="460.50" stroke="#E9E9E9" stroke-width="0.75"/>
<text x="482.95" y="461.79" font-size="3.6" text-anchor="end" fill="#555555" color="#555555">10.0%</text>
<line x1="485.95" y1="451.49" x2="676.45" y2="451.49" stroke="#E9E9E9" stroke-width="0.75"/>
<text x="482.95" y="452.79" font-size="3.6" text-anchor="end" fill="#555555" color="#555555">20.0%</text>
<line x1="485.95" y1="442.49" x2="676.45" y2="442.49" stroke="#E9E9E9" stroke-width="0.75"/>
<text x="482.95" y="443.78" font-size="3.6" text-anchor="end" fill="#555555" color="#555555">30.0%</text>
<line x1="485.95" y1="433.48" x2="676.45" y2="433.48" stroke="#E9E9E9" stroke-width="0.75"/>
<text x="482.95" y="434.78" font-size="3.6" text-anchor="end" fill="#555555" color="#555555">40.0%</text>
<line x1="485.95" y1="424.48" x2="676.45" y2="424.48" stroke="#E9E9E9" stroke-width="0.75"/>
<text x="482.95" y="425.77" font-size="3.6" text-anchor="end" fill="#555555" color="#555555">50.0%</text>
<line x1="485.95" y1="415.47" x2="676.45" y2="415.47" stroke="#E9E9E9" stroke-width="0.75"/>
<text x="482.95" y="416.77" font-size="3.6" text-anchor="end" fill="#555555" color="#555555">60.0%</text>
<line x1="485.95" y1="406.46" x2="676.45" y2="406.46" stroke="#E9E9E9" stroke-width="0.75"/>
<text x="482.95" y="407.76" font-size="3.6" text-anchor="end" fill="#555555" color="#555555">70.0%</text>
<line x1="485.95" y1="397.46" x2="676.45" y2="397.46" stroke="#E9E9E9" stroke-width="0.75"/>
<text x="482.95" y="398.76" font-size="3.6" text-anchor="end" fill="#555555" color="#555555">80.0%</text>
<line x1="485.95" y1="388.45" x2="676.45" y2="388.45" stroke="#E9E9E9" stroke-width="0.75"/>
<text x="482.95" y="389.75" font-size="3.6" text-anchor="end" fill="#555555" color="#555555">90.0%</text>
<line x1="485.95" y1="379.45" x2="676.45" y2="379.45" stroke="#E9E9E9" stroke-width="0.75"/>
<text x="482.95" y="380.75" font-size="3.6" text-anchor="end" fill="#555555" color="#555555">100.0%</text>
<text x="505.00" y="475.39" font-size="3.85" text-anchor="middle" fill="#555555" color="#555555">2018</text>
<text x="543.10" y="475.39" font-size="3.85" text-anchor="middle" fill="#555555" color="#555555">2019</text>
<text x="581.20" y="475.39" font-size="3.85" text-anchor="middle" fill="#555555" color="#555555">2020</text>
<text x="619.30" y="475.39" font-size="3.85" text-anchor="middle" fill="#555555" color="#555555">2021</text>
<text x="657.40" y="475.39" font-size="3.85" text-anchor="middle" fill="#555555" color="#555555">2022</text>
<text x="0" y="0" font-size="3.6" text-anchor="middle" fill="#555555" color="#555555" transform="translate(466.50,424.48) rotate(-90)" textLength="57" lengthAdjust="spacingAndGlyphs">Percentage of interventions (%)</text>
<line x1="539.40" y1="483.00" x2="548.90" y2="483.00" stroke="#E2702F" stroke-width="1.1"/>
<circle cx="544.15" cy="483.00" r="1.0" fill="#E2702F"/>
<text x="549.50" y="484.30" font-size="3.6" text-anchor="start" fill="#707070" color="#707070" textLength="9.60" lengthAdjust="spacingAndGlyphs">WVTT</text>
<line x1="562.10" y1="483.00" x2="571.60" y2="483.00" stroke="#1F8FC8" stroke-width="1.1"/>
<circle cx="566.85" cy="483.00" r="1.0" fill="#1F8FC8"/>
<text x="572.20" y="484.30" font-size="3.6" text-anchor="start" fill="#707070" color="#707070" textLength="7.10" lengthAdjust="spacingAndGlyphs">PVP</text>
<line x1="582.20" y1="483.00" x2="591.70" y2="483.00" stroke="#4FA22E" stroke-width="1.1"/>
<circle cx="586.95" cy="483.00" r="1.0" fill="#4FA22E"/>
<text x="592.30" y="484.30" font-size="3.6" text-anchor="start" fill="#707070" color="#707070" textLength="9.60" lengthAdjust="spacingAndGlyphs">Other</text>
<clipPath id="c32"><rect x="485.95" y="379.85" width="190.50" height="89.65"/></clipPath>
<g>
<polyline points="505.00,469.50 543.10,388.73 581.20,385.93 619.30,403.58 657.40,398.72" fill="none" stroke="#E2702F" stroke-width="1.15" stroke-linejoin="round" stroke-linecap="round"/>
<polyline points="505.00,434.29 543.10,464.82 581.20,466.35 619.30,465.18 657.40,469.50" fill="none" stroke="#1F8FC8" stroke-width="1.15" stroke-linejoin="round" stroke-linecap="round"/>
<polyline points="505.00,414.66 543.10,464.91 581.20,466.17 619.30,449.69 657.40,450.23" fill="none" stroke="#4FA22E" stroke-width="1.15" stroke-linejoin="round" stroke-linecap="round"/>
</g>
<circle cx="505.00" cy="469.50" r="1.2" fill="#E2702F"/>
<circle cx="543.10" cy="388.73" r="1.2" fill="#E2702F"/>
<circle cx="581.20" cy="385.93" r="1.2" fill="#E2702F"/>
<circle cx="619.30" cy="403.58" r="1.2" fill="#E2702F"/>
<circle cx="657.40" cy="398.72" r="1.2" fill="#E2702F"/>
<circle cx="505.00" cy="434.29" r="1.2" fill="#1F8FC8"/>
<circle cx="543.10" cy="464.82" r="1.2" fill="#1F8FC8"/>
<circle cx="581.20" cy="466.35" r="1.2" fill="#1F8FC8"/>
<circle cx="619.30" cy="465.18" r="1.2" fill="#1F8FC8"/>
<circle cx="657.40" cy="469.50" r="1.2" fill="#1F8FC8"/>
<circle cx="505.00" cy="414.66" r="1.2" fill="#4FA22E"/>
<circle cx="543.10" cy="464.91" r="1.2" fill="#4FA22E"/>
<circle cx="581.20" cy="466.17" r="1.2" fill="#4FA22E"/>
<circle cx="619.30" cy="449.69" r="1.2" fill="#4FA22E"/>
<circle cx="657.40" cy="450.23" r="1.2" fill="#4FA22E"/>
<text x="499.90" y="465.04" font-size="3.45" text-anchor="middle" fill="#555555" color="#555555">0.0%</text>
<text x="543.10" y="384.67" font-size="3.45" text-anchor="middle" fill="#555555" color="#555555">89.7%</text>
<text x="581.20" y="381.88" font-size="3.45" text-anchor="middle" fill="#555555" color="#555555">92.8%</text>
<text x="619.30" y="399.53" font-size="3.45" text-anchor="middle" fill="#555555" color="#555555">73.2%</text>
<text x="657.40" y="394.66" font-size="3.45" text-anchor="middle" fill="#555555" color="#555555">78.6%</text>
<text x="505.00" y="430.23" font-size="3.45" text-anchor="middle" fill="#555555" color="#555555">39.1%</text>
<text x="619.30" y="461.12" font-size="3.45" text-anchor="middle" fill="#555555" color="#555555">4.8%</text>
<text x="657.40" y="465.44" font-size="3.45" text-anchor="middle" fill="#555555" color="#555555">0.0%</text>
<text x="505.00" y="410.60" font-size="3.45" text-anchor="middle" fill="#555555" color="#555555">60.9%</text>
<text x="548.10" y="461.15" font-size="3.45" text-anchor="middle" fill="#555555" color="#555555">5.1%</text>
<text x="581.20" y="462.11" font-size="3.45" text-anchor="middle" fill="#555555" color="#555555">3.7%</text>
<text x="619.30" y="445.63" font-size="3.45" text-anchor="middle" fill="#555555" color="#555555">22.0%</text>
<text x="657.40" y="446.17" font-size="3.45" text-anchor="middle" fill="#555555" color="#555555">21.4%</text>
<line x1="38.35" y1="585.50" x2="228.85" y2="585.50" stroke="#E9E9E9" stroke-width="0.75"/>
<text x="35.35" y="586.80" font-size="3.6" text-anchor="end" fill="#555555" color="#555555">0.0%</text>
<line x1="38.35" y1="576.49" x2="228.85" y2="576.49" stroke="#E9E9E9" stroke-width="0.75"/>
<text x="35.35" y="577.79" font-size="3.6" text-anchor="end" fill="#555555" color="#555555">10.0%</text>
<line x1="38.35" y1="567.48" x2="228.85" y2="567.48" stroke="#E9E9E9" stroke-width="0.75"/>
<text x="35.35" y="568.78" font-size="3.6" text-anchor="end" fill="#555555" color="#555555">20.0%</text>
<line x1="38.35" y1="558.47" x2="228.85" y2="558.47" stroke="#E9E9E9" stroke-width="0.75"/>
<text x="35.35" y="559.77" font-size="3.6" text-anchor="end" fill="#555555" color="#555555">30.0%</text>
<line x1="38.35" y1="549.46" x2="228.85" y2="549.46" stroke="#E9E9E9" stroke-width="0.75"/>
<text x="35.35" y="550.76" font-size="3.6" text-anchor="end" fill="#555555" color="#555555">40.0%</text>
<line x1="38.35" y1="540.45" x2="228.85" y2="540.45" stroke="#E9E9E9" stroke-width="0.75"/>
<text x="35.35" y="541.75" font-size="3.6" text-anchor="end" fill="#555555" color="#555555">50.0%</text>
<line x1="38.35" y1="531.44" x2="228.85" y2="531.44" stroke="#E9E9E9" stroke-width="0.75"/>
<text x="35.35" y="532.74" font-size="3.6" text-anchor="end" fill="#555555" color="#555555">60.0%</text>
<line x1="38.35" y1="522.43" x2="228.85" y2="522.43" stroke="#E9E9E9" stroke-width="0.75"/>
<text x="35.35" y="523.73" font-size="3.6" text-anchor="end" fill="#555555" color="#555555">70.0%</text>
<line x1="38.35" y1="513.42" x2="228.85" y2="513.42" stroke="#E9E9E9" stroke-width="0.75"/>
<text x="35.35" y="514.72" font-size="3.6" text-anchor="end" fill="#555555" color="#555555">80.0%</text>
<line x1="38.35" y1="504.41" x2="228.85" y2="504.41" stroke="#E9E9E9" stroke-width="0.75"/>
<text x="35.35" y="505.71" font-size="3.6" text-anchor="end" fill="#555555" color="#555555">90.0%</text>
<line x1="38.35" y1="495.40" x2="228.85" y2="495.40" stroke="#E9E9E9" stroke-width="0.75"/>
<text x="35.35" y="496.70" font-size="3.6" text-anchor="end" fill="#555555" color="#555555">100.0%</text>
<text x="57.40" y="591.39" font-size="3.85" text-anchor="middle" fill="#555555" color="#555555">2018</text>
<text x="95.50" y="591.39" font-size="3.85" text-anchor="middle" fill="#555555" color="#555555">2019</text>
<text x="133.60" y="591.39" font-size="3.85" text-anchor="middle" fill="#555555" color="#555555">2020</text>
<text x="171.70" y="591.39" font-size="3.85" text-anchor="middle" fill="#555555" color="#555555">2021</text>
<text x="209.80" y="591.39" font-size="3.85" text-anchor="middle" fill="#555555" color="#555555">2022</text>
<text x="0" y="0" font-size="3.6" text-anchor="middle" fill="#555555" color="#555555" transform="translate(18.90,540.45) rotate(-90)" textLength="57" lengthAdjust="spacingAndGlyphs">Percentage of interventions (%)</text>
<line x1="59.30" y1="599.00" x2="68.80" y2="599.00" stroke="#E2702F" stroke-width="1.1"/>
<circle cx="64.05" cy="599.00" r="1.0" fill="#E2702F"/>
<text x="69.40" y="600.30" font-size="3.6" text-anchor="start" fill="#707070" color="#707070" textLength="42.70" lengthAdjust="spacingAndGlyphs">Highly invasive techniques</text>
<line x1="118.10" y1="599.00" x2="127.60" y2="599.00" stroke="#1F8FC8" stroke-width="1.1"/>
<circle cx="122.85" cy="599.00" r="1.0" fill="#1F8FC8"/>
<text x="128.20" y="600.30" font-size="3.6" text-anchor="start" fill="#707070" color="#707070" textLength="32.20" lengthAdjust="spacingAndGlyphs">Invasive techniques</text>
<line x1="166.40" y1="599.00" x2="175.90" y2="599.00" stroke="#4FA22E" stroke-width="1.1"/>
<circle cx="171.15" cy="599.00" r="1.0" fill="#4FA22E"/>
<text x="176.50" y="600.30" font-size="3.6" text-anchor="start" fill="#707070" color="#707070" textLength="10.00" lengthAdjust="spacingAndGlyphs">MISTs</text>
<clipPath id="c40"><rect x="38.35" y="495.80" width="190.50" height="89.70"/></clipPath>
<g>
<polyline points="57.40,574.33 95.50,582.62 133.60,582.71 171.70,584.78 209.80,584.78" fill="none" stroke="#E2702F" stroke-width="1.15" stroke-linejoin="round" stroke-linecap="round"/>
<polyline points="57.40,506.57 95.50,500.99 133.60,498.19 171.70,502.88 209.80,504.68" fill="none" stroke="#1F8FC8" stroke-width="1.15" stroke-linejoin="round" stroke-linecap="round"/>
<polyline points="57.40,585.50 95.50,585.50 133.60,585.50 171.70,578.74 209.80,577.03" fill="none" stroke="#4FA22E" stroke-width="1.15" stroke-linejoin="round" stroke-linecap="round"/>
</g>
<circle cx="57.40" cy="574.33" r="1.2" fill="#E2702F"/>
<circle cx="95.50" cy="582.62" r="1.2" fill="#E2702F"/>
<circle cx="133.60" cy="582.71" r="1.2" fill="#E2702F"/>
<circle cx="171.70" cy="584.78" r="1.2" fill="#E2702F"/>
<circle cx="209.80" cy="584.78" r="1.2" fill="#E2702F"/>
<circle cx="57.40" cy="506.57" r="1.2" fill="#1F8FC8"/>
<circle cx="95.50" cy="500.99" r="1.2" fill="#1F8FC8"/>
<circle cx="133.60" cy="498.19" r="1.2" fill="#1F8FC8"/>
<circle cx="171.70" cy="502.88" r="1.2" fill="#1F8FC8"/>
<circle cx="209.80" cy="504.68" r="1.2" fill="#1F8FC8"/>
<circle cx="57.40" cy="585.50" r="1.2" fill="#4FA22E"/>
<circle cx="95.50" cy="585.50" r="1.2" fill="#4FA22E"/>
<circle cx="133.60" cy="585.50" r="1.2" fill="#4FA22E"/>
<circle cx="171.70" cy="578.74" r="1.2" fill="#4FA22E"/>
<circle cx="209.80" cy="577.03" r="1.2" fill="#4FA22E"/>
<text x="57.40" y="570.27" font-size="3.45" text-anchor="middle" fill="#555555" color="#555555">12.4%</text>
<text x="95.50" y="578.56" font-size="3.45" text-anchor="middle" fill="#555555" color="#555555">3.2%</text>
<text x="133.60" y="578.65" font-size="3.45" text-anchor="middle" fill="#555555" color="#555555">3.1%</text>
<text x="177.20" y="583.42" font-size="3.45" text-anchor="middle" fill="#555555" color="#555555">0.8%</text>
<text x="209.80" y="582.52" font-size="3.45" text-anchor="middle" fill="#555555" color="#555555">0.8%</text>
<text x="57.40" y="502.51" font-size="3.45" text-anchor="middle" fill="#555555" color="#555555">87.6%</text>
<text x="95.50" y="496.93" font-size="3.45" text-anchor="middle" fill="#555555" color="#555555">93.8%</text>
<text x="133.60" y="494.14" font-size="3.45" text-anchor="middle" fill="#555555" color="#555555">96.9%</text>
<text x="171.70" y="498.82" font-size="3.45" text-anchor="middle" fill="#555555" color="#555555">91.7%</text>
<text x="209.80" y="500.62" font-size="3.45" text-anchor="middle" fill="#555555" color="#555555">89.7%</text>
<text x="57.40" y="581.44" font-size="3.45" text-anchor="middle" fill="#555555" color="#555555">0.0%</text>
<text x="171.70" y="574.68" font-size="3.45" text-anchor="middle" fill="#555555" color="#555555">7.5%</text>
<text x="209.80" y="572.97" font-size="3.45" text-anchor="middle" fill="#555555" color="#555555">9.4%</text>
<line x1="262.15" y1="585.50" x2="452.65" y2="585.50" stroke="#E9E9E9" stroke-width="0.75"/>
<text x="259.15" y="586.80" font-size="3.6" text-anchor="end" fill="#555555" color="#555555">0.0%</text>
<line x1="262.15" y1="576.49" x2="452.65" y2="576.49" stroke="#E9E9E9" stroke-width="0.75"/>
<text x="259.15" y="577.79" font-size="3.6" text-anchor="end" fill="#555555" color="#555555">10.0%</text>
<line x1="262.15" y1="567.48" x2="452.65" y2="567.48" stroke="#E9E9E9" stroke-width="0.75"/>
<text x="259.15" y="568.78" font-size="3.6" text-anchor="end" fill="#555555" color="#555555">20.0%</text>
<line x1="262.15" y1="558.47" x2="452.65" y2="558.47" stroke="#E9E9E9" stroke-width="0.75"/>
<text x="259.15" y="559.77" font-size="3.6" text-anchor="end" fill="#555555" color="#555555">30.0%</text>
<line x1="262.15" y1="549.46" x2="452.65" y2="549.46" stroke="#E9E9E9" stroke-width="0.75"/>
<text x="259.15" y="550.76" font-size="3.6" text-anchor="end" fill="#555555" color="#555555">40.0%</text>
<line x1="262.15" y1="540.45" x2="452.65" y2="540.45" stroke="#E9E9E9" stroke-width="0.75"/>
<text x="259.15" y="541.75" font-size="3.6" text-anchor="end" fill="#555555" color="#555555">50.0%</text>
<line x1="262.15" y1="531.44" x2="452.65" y2="531.44" stroke="#E9E9E9" stroke-width="0.75"/>
<text x="259.15" y="532.74" font-size="3.6" text-anchor="end" fill="#555555" color="#555555">60.0%</text>
<line x1="262.15" y1="522.43" x2="452.65" y2="522.43" stroke="#E9E9E9" stroke-width="0.75"/>
<text x="259.15" y="523.73" font-size="3.6" text-anchor="end" fill="#555555" color="#555555">70.0%</text>
<line x1="262.15" y1="513.42" x2="452.65" y2="513.42" stroke="#E9E9E9" stroke-width="0.75"/>
<text x="259.15" y="514.72" font-size="3.6" text-anchor="end" fill="#555555" color="#555555">80.0%</text>
<line x1="262.15" y1="504.41" x2="452.65" y2="504.41" stroke="#E9E9E9" stroke-width="0.75"/>
<text x="259.15" y="505.71" font-size="3.6" text-anchor="end" fill="#555555" color="#555555">90.0%</text>
<line x1="262.15" y1="495.40" x2="452.65" y2="495.40" stroke="#E9E9E9" stroke-width="0.75"/>
<text x="259.15" y="496.70" font-size="3.6" text-anchor="end" fill="#555555" color="#555555">100.0%</text>
<text x="281.20" y="591.39" font-size="3.85" text-anchor="middle" fill="#555555" color="#555555">2018</text>
<text x="319.30" y="591.39" font-size="3.85" text-anchor="middle" fill="#555555" color="#555555">2019</text>
<text x="357.40" y="591.39" font-size="3.85" text-anchor="middle" fill="#555555" color="#555555">2020</text>
<text x="395.50" y="591.39" font-size="3.85" text-anchor="middle" fill="#555555" color="#555555">2021</text>
<text x="433.60" y="591.39" font-size="3.85" text-anchor="middle" fill="#555555" color="#555555">2022</text>
<text x="0" y="0" font-size="3.6" text-anchor="middle" fill="#555555" color="#555555" transform="translate(242.70,540.45) rotate(-90)" textLength="57" lengthAdjust="spacingAndGlyphs">Percentage of interventions (%)</text>
<line x1="294.40" y1="599.00" x2="303.90" y2="599.00" stroke="#E2702F" stroke-width="1.1"/>
<circle cx="299.15" cy="599.00" r="1.0" fill="#E2702F"/>
<text x="304.50" y="600.30" font-size="3.6" text-anchor="start" fill="#707070" color="#707070" textLength="46.40" lengthAdjust="spacingAndGlyphs">Laparoscopic prostatectomy</text>
<line x1="356.20" y1="599.00" x2="365.70" y2="599.00" stroke="#1F8FC8" stroke-width="1.1"/>
<circle cx="360.95" cy="599.00" r="1.0" fill="#1F8FC8"/>
<text x="366.30" y="600.30" font-size="3.6" text-anchor="start" fill="#707070" color="#707070" textLength="8.70" lengthAdjust="spacingAndGlyphs">TURP</text>
<line x1="380.20" y1="599.00" x2="389.70" y2="599.00" stroke="#4FA22E" stroke-width="1.1"/>
<circle cx="384.95" cy="599.00" r="1.0" fill="#4FA22E"/>
<text x="390.30" y="600.30" font-size="3.6" text-anchor="start" fill="#707070" color="#707070" textLength="8.20" lengthAdjust="spacingAndGlyphs">AEEP</text>
<clipPath id="c41"><rect x="262.15" y="495.80" width="190.50" height="89.70"/></clipPath>
<g>
<polyline points="281.20,585.50 319.30,585.50 357.40,585.50 395.50,585.50 433.60,585.50" fill="none" stroke="#E2702F" stroke-width="1.15" stroke-linejoin="round" stroke-linecap="round"/>
<polyline points="281.20,542.16 319.30,538.74 357.40,541.89 395.50,556.40 433.60,567.84" fill="none" stroke="#1F8FC8" stroke-width="1.15" stroke-linejoin="round" stroke-linecap="round"/>
<polyline points="281.20,538.74 319.30,542.16 357.40,539.01 395.50,524.50 433.60,513.06" fill="none" stroke="#4FA22E" stroke-width="1.15" stroke-linejoin="round" stroke-linecap="round"/>
</g>
<circle cx="281.20" cy="585.50" r="1.2" fill="#E2702F"/>
<circle cx="319.30" cy="585.50" r="1.2" fill="#E2702F"/>
<circle cx="357.40" cy="585.50" r="1.2" fill="#E2702F"/>
<circle cx="395.50" cy="585.50" r="1.2" fill="#E2702F"/>
<circle cx="433.60" cy="585.50" r="1.2" fill="#E2702F"/>
<circle cx="281.20" cy="542.16" r="1.2" fill="#1F8FC8"/>
<circle cx="319.30" cy="538.74" r="1.2" fill="#1F8FC8"/>
<circle cx="357.40" cy="541.89" r="1.2" fill="#1F8FC8"/>
<circle cx="395.50" cy="556.40" r="1.2" fill="#1F8FC8"/>
<circle cx="433.60" cy="567.84" r="1.2" fill="#1F8FC8"/>
<circle cx="281.20" cy="538.74" r="1.2" fill="#4FA22E"/>
<circle cx="319.30" cy="542.16" r="1.2" fill="#4FA22E"/>
<circle cx="357.40" cy="539.01" r="1.2" fill="#4FA22E"/>
<circle cx="395.50" cy="524.50" r="1.2" fill="#4FA22E"/>
<circle cx="433.60" cy="513.06" r="1.2" fill="#4FA22E"/>
<text x="281.20" y="581.44" font-size="3.45" text-anchor="middle" fill="#555555" color="#555555">0.0%</text>
<text x="319.30" y="581.44" font-size="3.45" text-anchor="middle" fill="#555555" color="#555555">0.0%</text>
<text x="357.40" y="581.44" font-size="3.45" text-anchor="middle" fill="#555555" color="#555555">0.0%</text>
<text x="395.50" y="581.44" font-size="3.45" text-anchor="middle" fill="#555555" color="#555555">0.0%</text>
<text x="433.60" y="581.44" font-size="3.45" text-anchor="middle" fill="#555555" color="#555555">0.0%</text>
<text x="281.20" y="549.40" font-size="3.45" text-anchor="middle" fill="#555555" color="#555555">48.1%</text>
<text x="319.30" y="534.68" font-size="3.45" text-anchor="middle" fill="#555555" color="#555555">51.9%</text>
<text x="357.40" y="549.13" font-size="3.45" text-anchor="middle" fill="#555555" color="#555555">48.4%</text>
<text x="395.50" y="552.34" font-size="3.45" text-anchor="middle" fill="#555555" color="#555555">32.3%</text>
<text x="433.60" y="563.78" font-size="3.45" text-anchor="middle" fill="#555555" color="#555555">19.6%</text>
<text x="281.20" y="534.68" font-size="3.45" text-anchor="middle" fill="#555555" color="#555555">51.9%</text>
<text x="319.30" y="549.40" font-size="3.45" text-anchor="middle" fill="#555555" color="#555555">48.1%</text>
<text x="357.40" y="534.95" font-size="3.45" text-anchor="middle" fill="#555555" color="#555555">51.6%</text>
<text x="395.50" y="520.44" font-size="3.45" text-anchor="middle" fill="#555555" color="#555555">67.7%</text>
<text x="433.60" y="509.00" font-size="3.45" text-anchor="middle" fill="#555555" color="#555555">80.4%</text>
<line x1="485.95" y1="585.50" x2="676.45" y2="585.50" stroke="#E9E9E9" stroke-width="0.75"/>
<text x="482.95" y="586.80" font-size="3.6" text-anchor="end" fill="#555555" color="#555555">0.0%</text>
<line x1="485.95" y1="576.49" x2="676.45" y2="576.49" stroke="#E9E9E9" stroke-width="0.75"/>
<text x="482.95" y="577.79" font-size="3.6" text-anchor="end" fill="#555555" color="#555555">10.0%</text>
<line x1="485.95" y1="567.48" x2="676.45" y2="567.48" stroke="#E9E9E9" stroke-width="0.75"/>
<text x="482.95" y="568.78" font-size="3.6" text-anchor="end" fill="#555555" color="#555555">20.0%</text>
<line x1="485.95" y1="558.47" x2="676.45" y2="558.47" stroke="#E9E9E9" stroke-width="0.75"/>
<text x="482.95" y="559.77" font-size="3.6" text-anchor="end" fill="#555555" color="#555555">30.0%</text>
<line x1="485.95" y1="549.46" x2="676.45" y2="549.46" stroke="#E9E9E9" stroke-width="0.75"/>
<text x="482.95" y="550.76" font-size="3.6" text-anchor="end" fill="#555555" color="#555555">40.0%</text>
<line x1="485.95" y1="540.45" x2="676.45" y2="540.45" stroke="#E9E9E9" stroke-width="0.75"/>
<text x="482.95" y="541.75" font-size="3.6" text-anchor="end" fill="#555555" color="#555555">50.0%</text>
<line x1="485.95" y1="531.44" x2="676.45" y2="531.44" stroke="#E9E9E9" stroke-width="0.75"/>
<text x="482.95" y="532.74" font-size="3.6" text-anchor="end" fill="#555555" color="#555555">60.0%</text>
<line x1="485.95" y1="522.43" x2="676.45" y2="522.43" stroke="#E9E9E9" stroke-width="0.75"/>
<text x="482.95" y="523.73" font-size="3.6" text-anchor="end" fill="#555555" color="#555555">70.0%</text>
<line x1="485.95" y1="513.42" x2="676.45" y2="513.42" stroke="#E9E9E9" stroke-width="0.75"/>
<text x="482.95" y="514.72" font-size="3.6" text-anchor="end" fill="#555555" color="#555555">80.0%</text>
<line x1="485.95" y1="504.41" x2="676.45" y2="504.41" stroke="#E9E9E9" stroke-width="0.75"/>
<text x="482.95" y="505.71" font-size="3.6" text-anchor="end" fill="#555555" color="#555555">90.0%</text>
<line x1="485.95" y1="495.40" x2="676.45" y2="495.40" stroke="#E9E9E9" stroke-width="0.75"/>
<text x="482.95" y="496.70" font-size="3.6" text-anchor="end" fill="#555555" color="#555555">100.0%</text>
<text x="505.00" y="591.39" font-size="3.85" text-anchor="middle" fill="#555555" color="#555555">2018</text>
<text x="543.10" y="591.39" font-size="3.85" text-anchor="middle" fill="#555555" color="#555555">2019</text>
<text x="581.20" y="591.39" font-size="3.85" text-anchor="middle" fill="#555555" color="#555555">2020</text>
<text x="619.30" y="591.39" font-size="3.85" text-anchor="middle" fill="#555555" color="#555555">2021</text>
<text x="657.40" y="591.39" font-size="3.85" text-anchor="middle" fill="#555555" color="#555555">2022</text>
<text x="0" y="0" font-size="3.6" text-anchor="middle" fill="#555555" color="#555555" transform="translate(466.50,540.45) rotate(-90)" textLength="57" lengthAdjust="spacingAndGlyphs">Percentage of interventions (%)</text>
<line x1="539.40" y1="599.00" x2="548.90" y2="599.00" stroke="#E2702F" stroke-width="1.1"/>
<circle cx="544.15" cy="599.00" r="1.0" fill="#E2702F"/>
<text x="549.50" y="600.30" font-size="3.6" text-anchor="start" fill="#707070" color="#707070" textLength="9.60" lengthAdjust="spacingAndGlyphs">WVTT</text>
<line x1="562.10" y1="599.00" x2="571.60" y2="599.00" stroke="#1F8FC8" stroke-width="1.1"/>
<circle cx="566.85" cy="599.00" r="1.0" fill="#1F8FC8"/>
<text x="572.20" y="600.30" font-size="3.6" text-anchor="start" fill="#707070" color="#707070" textLength="7.10" lengthAdjust="spacingAndGlyphs">PVP</text>
<line x1="582.20" y1="599.00" x2="591.70" y2="599.00" stroke="#4FA22E" stroke-width="1.1"/>
<circle cx="586.95" cy="599.00" r="1.0" fill="#4FA22E"/>
<text x="592.30" y="600.30" font-size="3.6" text-anchor="start" fill="#707070" color="#707070" textLength="9.60" lengthAdjust="spacingAndGlyphs">Other</text>
<clipPath id="c42"><rect x="485.95" y="495.80" width="190.50" height="89.70"/></clipPath>
<g>
<polyline points="581.20,585.50 619.30,495.40 657.40,495.40" fill="none" stroke="#E2702F" stroke-width="1.15" stroke-linejoin="round" stroke-linecap="round"/>
<polyline points="505.00,585.50 543.10,585.50 581.20,585.50 619.30,585.50 657.40,585.50" fill="none" stroke="#4FA22E" stroke-width="1.15" stroke-linejoin="round" stroke-linecap="round"/>
</g>
<circle cx="619.30" cy="495.40" r="1.2" fill="#E2702F"/>
<circle cx="657.40" cy="495.40" r="1.2" fill="#E2702F"/>
<circle cx="505.00" cy="585.50" r="1.2" fill="#4FA22E"/>
<circle cx="543.10" cy="585.50" r="1.2" fill="#4FA22E"/>
<circle cx="581.20" cy="585.50" r="1.2" fill="#4FA22E"/>
<circle cx="619.30" cy="585.50" r="1.2" fill="#4FA22E"/>
<circle cx="657.40" cy="585.50" r="1.2" fill="#4FA22E"/>
<text x="505.00" y="581.44" font-size="3.45" text-anchor="middle" fill="#555555" color="#555555">0.0%</text>
<text x="543.10" y="581.44" font-size="3.45" text-anchor="middle" fill="#555555" color="#555555">0.0%</text>
<text x="575.60" y="581.44" font-size="3.45" text-anchor="middle" fill="#555555" color="#555555">0.0%</text>
<text x="628.50" y="502.24" font-size="3.45" text-anchor="middle" fill="#555555" color="#555555">100.0%</text>
<text x="657.40" y="502.64" font-size="3.45" text-anchor="middle" fill="#555555" color="#555555">100.0%</text>
<text x="619.30" y="581.44" font-size="3.45" text-anchor="middle" fill="#555555" color="#555555">0.0%</text>
<text x="657.40" y="581.44" font-size="3.45" text-anchor="middle" fill="#555555" color="#555555">0.0%</text>
<line x1="38.35" y1="701.95" x2="228.85" y2="701.95" stroke="#E9E9E9" stroke-width="0.75"/>
<text x="35.35" y="703.25" font-size="3.6" text-anchor="end" fill="#555555" color="#555555">0.0%</text>
<line x1="38.35" y1="692.90" x2="228.85" y2="692.90" stroke="#E9E9E9" stroke-width="0.75"/>
<text x="35.35" y="694.20" font-size="3.6" text-anchor="end" fill="#555555" color="#555555">10.0%</text>
<line x1="38.35" y1="683.85" x2="228.85" y2="683.85" stroke="#E9E9E9" stroke-width="0.75"/>
<text x="35.35" y="685.15" font-size="3.6" text-anchor="end" fill="#555555" color="#555555">20.0%</text>
<line x1="38.35" y1="674.80" x2="228.85" y2="674.80" stroke="#E9E9E9" stroke-width="0.75"/>
<text x="35.35" y="676.10" font-size="3.6" text-anchor="end" fill="#555555" color="#555555">30.0%</text>
<line x1="38.35" y1="665.75" x2="228.85" y2="665.75" stroke="#E9E9E9" stroke-width="0.75"/>
<text x="35.35" y="667.05" font-size="3.6" text-anchor="end" fill="#555555" color="#555555">40.0%</text>
<line x1="38.35" y1="656.70" x2="228.85" y2="656.70" stroke="#E9E9E9" stroke-width="0.75"/>
<text x="35.35" y="658.00" font-size="3.6" text-anchor="end" fill="#555555" color="#555555">50.0%</text>
<line x1="38.35" y1="647.65" x2="228.85" y2="647.65" stroke="#E9E9E9" stroke-width="0.75"/>
<text x="35.35" y="648.95" font-size="3.6" text-anchor="end" fill="#555555" color="#555555">60.0%</text>
<line x1="38.35" y1="638.60" x2="228.85" y2="638.60" stroke="#E9E9E9" stroke-width="0.75"/>
<text x="35.35" y="639.90" font-size="3.6" text-anchor="end" fill="#555555" color="#555555">70.0%</text>
<line x1="38.35" y1="629.55" x2="228.85" y2="629.55" stroke="#E9E9E9" stroke-width="0.75"/>
<text x="35.35" y="630.85" font-size="3.6" text-anchor="end" fill="#555555" color="#555555">80.0%</text>
<line x1="38.35" y1="620.50" x2="228.85" y2="620.50" stroke="#E9E9E9" stroke-width="0.75"/>
<text x="35.35" y="621.80" font-size="3.6" text-anchor="end" fill="#555555" color="#555555">90.0%</text>
<line x1="38.35" y1="611.45" x2="228.85" y2="611.45" stroke="#E9E9E9" stroke-width="0.75"/>
<text x="35.35" y="612.75" font-size="3.6" text-anchor="end" fill="#555555" color="#555555">100.0%</text>
<text x="57.40" y="707.84" font-size="3.85" text-anchor="middle" fill="#555555" color="#555555">2018</text>
<text x="95.50" y="707.84" font-size="3.85" text-anchor="middle" fill="#555555" color="#555555">2019</text>
<text x="133.60" y="707.84" font-size="3.85" text-anchor="middle" fill="#555555" color="#555555">2020</text>
<text x="171.70" y="707.84" font-size="3.85" text-anchor="middle" fill="#555555" color="#555555">2021</text>
<text x="209.80" y="707.84" font-size="3.85" text-anchor="middle" fill="#555555" color="#555555">2022</text>
<text x="0" y="0" font-size="3.6" text-anchor="middle" fill="#555555" color="#555555" transform="translate(18.90,656.70) rotate(-90)" textLength="57" lengthAdjust="spacingAndGlyphs">Percentage of interventions (%)</text>
<line x1="59.30" y1="715.45" x2="68.80" y2="715.45" stroke="#E2702F" stroke-width="1.1"/>
<circle cx="64.05" cy="715.45" r="1.0" fill="#E2702F"/>
<text x="69.40" y="716.75" font-size="3.6" text-anchor="start" fill="#707070" color="#707070" textLength="42.70" lengthAdjust="spacingAndGlyphs">Highly invasive techniques</text>
<line x1="118.10" y1="715.45" x2="127.60" y2="715.45" stroke="#1F8FC8" stroke-width="1.1"/>
<circle cx="122.85" cy="715.45" r="1.0" fill="#1F8FC8"/>
<text x="128.20" y="716.75" font-size="3.6" text-anchor="start" fill="#707070" color="#707070" textLength="32.20" lengthAdjust="spacingAndGlyphs">Invasive techniques</text>
<line x1="166.40" y1="715.45" x2="175.90" y2="715.45" stroke="#4FA22E" stroke-width="1.1"/>
<circle cx="171.15" cy="715.45" r="1.0" fill="#4FA22E"/>
<text x="176.50" y="716.75" font-size="3.6" text-anchor="start" fill="#707070" color="#707070" textLength="10.00" lengthAdjust="spacingAndGlyphs">MISTs</text>
<clipPath id="c50"><rect x="38.35" y="611.85" width="190.50" height="90.10"/></clipPath>
<g>
<polyline points="57.40,682.67 95.50,686.66 133.60,690.73 171.70,692.63 209.80,691.18" fill="none" stroke="#E2702F" stroke-width="1.15" stroke-linejoin="round" stroke-linecap="round"/>
<polyline points="57.40,658.33 95.50,661.95 133.60,669.28 171.70,648.28 209.80,647.11" fill="none" stroke="#1F8FC8" stroke-width="1.15" stroke-linejoin="round" stroke-linecap="round"/>
<polyline points="57.40,674.35 95.50,666.66 133.60,655.34 171.70,674.53 209.80,677.06" fill="none" stroke="#4FA22E" stroke-width="1.15" stroke-linejoin="round" stroke-linecap="round"/>
</g>
<circle cx="57.40" cy="682.67" r="1.2" fill="#E2702F"/>
<circle cx="95.50" cy="686.66" r="1.2" fill="#E2702F"/>
<circle cx="133.60" cy="690.73" r="1.2" fill="#E2702F"/>
<circle cx="171.70" cy="692.63" r="1.2" fill="#E2702F"/>
<circle cx="209.80" cy="691.18" r="1.2" fill="#E2702F"/>
<circle cx="57.40" cy="658.33" r="1.2" fill="#1F8FC8"/>
<circle cx="95.50" cy="661.95" r="1.2" fill="#1F8FC8"/>
<circle cx="133.60" cy="669.28" r="1.2" fill="#1F8FC8"/>
<circle cx="171.70" cy="648.28" r="1.2" fill="#1F8FC8"/>
<circle cx="209.80" cy="647.11" r="1.2" fill="#1F8FC8"/>
<circle cx="57.40" cy="674.35" r="1.2" fill="#4FA22E"/>
<circle cx="95.50" cy="666.66" r="1.2" fill="#4FA22E"/>
<circle cx="133.60" cy="655.34" r="1.2" fill="#4FA22E"/>
<circle cx="171.70" cy="674.53" r="1.2" fill="#4FA22E"/>
<circle cx="209.80" cy="677.06" r="1.2" fill="#4FA22E"/>
<text x="57.40" y="689.92" font-size="3.45" text-anchor="middle" fill="#555555" color="#555555">21.3%</text>
<text x="95.50" y="693.90" font-size="3.45" text-anchor="middle" fill="#555555" color="#555555">16.9%</text>
<text x="133.60" y="697.97" font-size="3.45" text-anchor="middle" fill="#555555" color="#555555">12.4%</text>
<text x="171.70" y="699.87" font-size="3.45" text-anchor="middle" fill="#555555" color="#555555">10.3%</text>
<text x="209.80" y="698.42" font-size="3.45" text-anchor="middle" fill="#555555" color="#555555">11.9%</text>
<text x="57.40" y="654.27" font-size="3.45" text-anchor="middle" fill="#555555" color="#555555">48.2%</text>
<text x="95.50" y="657.89" font-size="3.45" text-anchor="middle" fill="#555555" color="#555555">44.2%</text>
<text x="133.60" y="665.22" font-size="3.45" text-anchor="middle" fill="#555555" color="#555555">36.1%</text>
<text x="171.70" y="644.23" font-size="3.45" text-anchor="middle" fill="#555555" color="#555555">59.3%</text>
<text x="209.80" y="643.05" font-size="3.45" text-anchor="middle" fill="#555555" color="#555555">60.6%</text>
<text x="57.40" y="670.29" font-size="3.45" text-anchor="middle" fill="#555555" color="#555555">30.5%</text>
<text x="95.50" y="673.90" font-size="3.45" text-anchor="middle" fill="#555555" color="#555555">39.0%</text>
<text x="133.60" y="651.28" font-size="3.45" text-anchor="middle" fill="#555555" color="#555555">51.5%</text>
<text x="171.70" y="670.47" font-size="3.45" text-anchor="middle" fill="#555555" color="#555555">30.3%</text>
<text x="209.80" y="673.00" font-size="3.45" text-anchor="middle" fill="#555555" color="#555555">27.5%</text>
<line x1="262.15" y1="701.95" x2="452.65" y2="701.95" stroke="#E9E9E9" stroke-width="0.75"/>
<text x="259.15" y="703.25" font-size="3.6" text-anchor="end" fill="#555555" color="#555555">0.0%</text>
<line x1="262.15" y1="692.90" x2="452.65" y2="692.90" stroke="#E9E9E9" stroke-width="0.75"/>
<text x="259.15" y="694.20" font-size="3.6" text-anchor="end" fill="#555555" color="#555555">10.0%</text>
<line x1="262.15" y1="683.85" x2="452.65" y2="683.85" stroke="#E9E9E9" stroke-width="0.75"/>
<text x="259.15" y="685.15" font-size="3.6" text-anchor="end" fill="#555555" color="#555555">20.0%</text>
<line x1="262.15" y1="674.80" x2="452.65" y2="674.80" stroke="#E9E9E9" stroke-width="0.75"/>
<text x="259.15" y="676.10" font-size="3.6" text-anchor="end" fill="#555555" color="#555555">30.0%</text>
<line x1="262.15" y1="665.75" x2="452.65" y2="665.75" stroke="#E9E9E9" stroke-width="0.75"/>
<text x="259.15" y="667.05" font-size="3.6" text-anchor="end" fill="#555555" color="#555555">40.0%</text>
<line x1="262.15" y1="656.70" x2="452.65" y2="656.70" stroke="#E9E9E9" stroke-width="0.75"/>
<text x="259.15" y="658.00" font-size="3.6" text-anchor="end" fill="#555555" color="#555555">50.0%</text>
<line x1="262.15" y1="647.65" x2="452.65" y2="647.65" stroke="#E9E9E9" stroke-width="0.75"/>
<text x="259.15" y="648.95" font-size="3.6" text-anchor="end" fill="#555555" color="#555555">60.0%</text>
<line x1="262.15" y1="638.60" x2="452.65" y2="638.60" stroke="#E9E9E9" stroke-width="0.75"/>
<text x="259.15" y="639.90" font-size="3.6" text-anchor="end" fill="#555555" color="#555555">70.0%</text>
<line x1="262.15" y1="629.55" x2="452.65" y2="629.55" stroke="#E9E9E9" stroke-width="0.75"/>
<text x="259.15" y="630.85" font-size="3.6" text-anchor="end" fill="#555555" color="#555555">80.0%</text>
<line x1="262.15" y1="620.50" x2="452.65" y2="620.50" stroke="#E9E9E9" stroke-width="0.75"/>
<text x="259.15" y="621.80" font-size="3.6" text-anchor="end" fill="#555555" color="#555555">90.0%</text>
<line x1="262.15" y1="611.45" x2="452.65" y2="611.45" stroke="#E9E9E9" stroke-width="0.75"/>
<text x="259.15" y="612.75" font-size="3.6" text-anchor="end" fill="#555555" color="#555555">100.0%</text>
<text x="281.20" y="707.84" font-size="3.85" text-anchor="middle" fill="#555555" color="#555555">2018</text>
<text x="319.30" y="707.84" font-size="3.85" text-anchor="middle" fill="#555555" color="#555555">2019</text>
<text x="357.40" y="707.84" font-size="3.85" text-anchor="middle" fill="#555555" color="#555555">2020</text>
<text x="395.50" y="707.84" font-size="3.85" text-anchor="middle" fill="#555555" color="#555555">2021</text>
<text x="433.60" y="707.84" font-size="3.85" text-anchor="middle" fill="#555555" color="#555555">2022</text>
<text x="0" y="0" font-size="3.6" text-anchor="middle" fill="#555555" color="#555555" transform="translate(242.70,656.70) rotate(-90)" textLength="57" lengthAdjust="spacingAndGlyphs">Percentage of interventions (%)</text>
<line x1="294.40" y1="715.45" x2="303.90" y2="715.45" stroke="#E2702F" stroke-width="1.1"/>
<circle cx="299.15" cy="715.45" r="1.0" fill="#E2702F"/>
<text x="304.50" y="716.75" font-size="3.6" text-anchor="start" fill="#707070" color="#707070" textLength="46.40" lengthAdjust="spacingAndGlyphs">Laparoscopic prostatectomy</text>
<line x1="356.20" y1="715.45" x2="365.70" y2="715.45" stroke="#1F8FC8" stroke-width="1.1"/>
<circle cx="360.95" cy="715.45" r="1.0" fill="#1F8FC8"/>
<text x="366.30" y="716.75" font-size="3.6" text-anchor="start" fill="#707070" color="#707070" textLength="8.70" lengthAdjust="spacingAndGlyphs">TURP</text>
<line x1="380.20" y1="715.45" x2="389.70" y2="715.45" stroke="#4FA22E" stroke-width="1.1"/>
<circle cx="384.95" cy="715.45" r="1.0" fill="#4FA22E"/>
<text x="390.30" y="716.75" font-size="3.6" text-anchor="start" fill="#707070" color="#707070" textLength="8.20" lengthAdjust="spacingAndGlyphs">AEEP</text>
<clipPath id="c51"><rect x="262.15" y="611.85" width="190.50" height="90.10"/></clipPath>
<g>
<polyline points="281.20,696.61 319.30,693.99 357.40,697.52 395.50,700.77 433.60,701.05" fill="none" stroke="#E2702F" stroke-width="1.15" stroke-linejoin="round" stroke-linecap="round"/>
<polyline points="281.20,632.72 319.30,634.08 357.40,636.70 395.50,631.45 433.60,647.83" fill="none" stroke="#1F8FC8" stroke-width="1.15" stroke-linejoin="round" stroke-linecap="round"/>
<polyline points="281.20,686.02 319.30,687.29 357.40,681.32 395.50,683.13 433.60,666.47" fill="none" stroke="#4FA22E" stroke-width="1.15" stroke-linejoin="round" stroke-linecap="round"/>
</g>
<circle cx="281.20" cy="696.61" r="1.2" fill="#E2702F"/>
<circle cx="319.30" cy="693.99" r="1.2" fill="#E2702F"/>
<circle cx="357.40" cy="697.52" r="1.2" fill="#E2702F"/>
<circle cx="395.50" cy="700.77" r="1.2" fill="#E2702F"/>
<circle cx="433.60" cy="701.05" r="1.2" fill="#E2702F"/>
<circle cx="281.20" cy="632.72" r="1.2" fill="#1F8FC8"/>
<circle cx="319.30" cy="634.08" r="1.2" fill="#1F8FC8"/>
<circle cx="357.40" cy="636.70" r="1.2" fill="#1F8FC8"/>
<circle cx="395.50" cy="631.45" r="1.2" fill="#1F8FC8"/>
<circle cx="433.60" cy="647.83" r="1.2" fill="#1F8FC8"/>
<circle cx="281.20" cy="686.02" r="1.2" fill="#4FA22E"/>
<circle cx="319.30" cy="687.29" r="1.2" fill="#4FA22E"/>
<circle cx="357.40" cy="681.32" r="1.2" fill="#4FA22E"/>
<circle cx="395.50" cy="683.13" r="1.2" fill="#4FA22E"/>
<circle cx="433.60" cy="666.47" r="1.2" fill="#4FA22E"/>
<text x="281.20" y="692.55" font-size="3.45" text-anchor="middle" fill="#555555" color="#555555">5.9%</text>
<text x="319.30" y="701.23" font-size="3.45" text-anchor="middle" fill="#555555" color="#555555">8.8%</text>
<text x="357.40" y="693.46" font-size="3.45" text-anchor="middle" fill="#555555" color="#555555">4.9%</text>
<text x="395.50" y="696.72" font-size="3.45" text-anchor="middle" fill="#555555" color="#555555">1.3%</text>
<text x="433.60" y="696.99" font-size="3.45" text-anchor="middle" fill="#555555" color="#555555">1.0%</text>
<text x="281.20" y="628.66" font-size="3.45" text-anchor="middle" fill="#555555" color="#555555">76.5%</text>
<text x="319.30" y="630.02" font-size="3.45" text-anchor="middle" fill="#555555" color="#555555">75.0%</text>
<text x="357.40" y="632.64" font-size="3.45" text-anchor="middle" fill="#555555" color="#555555">72.1%</text>
<text x="395.50" y="627.39" font-size="3.45" text-anchor="middle" fill="#555555" color="#555555">77.9%</text>
<text x="433.60" y="643.77" font-size="3.45" text-anchor="middle" fill="#555555" color="#555555">59.8%</text>
<text x="281.20" y="681.96" font-size="3.45" text-anchor="middle" fill="#555555" color="#555555">17.6%</text>
<text x="319.30" y="683.23" font-size="3.45" text-anchor="middle" fill="#555555" color="#555555">16.2%</text>
<text x="357.40" y="677.26" font-size="3.45" text-anchor="middle" fill="#555555" color="#555555">22.8%</text>
<text x="395.50" y="679.07" font-size="3.45" text-anchor="middle" fill="#555555" color="#555555">20.8%</text>
<text x="433.60" y="662.42" font-size="3.45" text-anchor="middle" fill="#555555" color="#555555">39.2%</text>
<line x1="485.95" y1="701.95" x2="676.45" y2="701.95" stroke="#E9E9E9" stroke-width="0.75"/>
<text x="482.95" y="703.25" font-size="3.6" text-anchor="end" fill="#555555" color="#555555">0.0%</text>
<line x1="485.95" y1="692.90" x2="676.45" y2="692.90" stroke="#E9E9E9" stroke-width="0.75"/>
<text x="482.95" y="694.20" font-size="3.6" text-anchor="end" fill="#555555" color="#555555">10.0%</text>
<line x1="485.95" y1="683.85" x2="676.45" y2="683.85" stroke="#E9E9E9" stroke-width="0.75"/>
<text x="482.95" y="685.15" font-size="3.6" text-anchor="end" fill="#555555" color="#555555">20.0%</text>
<line x1="485.95" y1="674.80" x2="676.45" y2="674.80" stroke="#E9E9E9" stroke-width="0.75"/>
<text x="482.95" y="676.10" font-size="3.6" text-anchor="end" fill="#555555" color="#555555">30.0%</text>
<line x1="485.95" y1="665.75" x2="676.45" y2="665.75" stroke="#E9E9E9" stroke-width="0.75"/>
<text x="482.95" y="667.05" font-size="3.6" text-anchor="end" fill="#555555" color="#555555">40.0%</text>
<line x1="485.95" y1="656.70" x2="676.45" y2="656.70" stroke="#E9E9E9" stroke-width="0.75"/>
<text x="482.95" y="658.00" font-size="3.6" text-anchor="end" fill="#555555" color="#555555">50.0%</text>
<line x1="485.95" y1="647.65" x2="676.45" y2="647.65" stroke="#E9E9E9" stroke-width="0.75"/>
<text x="482.95" y="648.95" font-size="3.6" text-anchor="end" fill="#555555" color="#555555">60.0%</text>
<line x1="485.95" y1="638.60" x2="676.45" y2="638.60" stroke="#E9E9E9" stroke-width="0.75"/>
<text x="482.95" y="639.90" font-size="3.6" text-anchor="end" fill="#555555" color="#555555">70.0%</text>
<line x1="485.95" y1="629.55" x2="676.45" y2="629.55" stroke="#E9E9E9" stroke-width="0.75"/>
<text x="482.95" y="630.85" font-size="3.6" text-anchor="end" fill="#555555" color="#555555">80.0%</text>
<line x1="485.95" y1="620.50" x2="676.45" y2="620.50" stroke="#E9E9E9" stroke-width="0.75"/>
<text x="482.95" y="621.80" font-size="3.6" text-anchor="end" fill="#555555" color="#555555">90.0%</text>
<line x1="485.95" y1="611.45" x2="676.45" y2="611.45" stroke="#E9E9E9" stroke-width="0.75"/>
<text x="482.95" y="612.75" font-size="3.6" text-anchor="end" fill="#555555" color="#555555">100.0%</text>
<text x="505.00" y="707.84" font-size="3.85" text-anchor="middle" fill="#555555" color="#555555">2018</text>
<text x="543.10" y="707.84" font-size="3.85" text-anchor="middle" fill="#555555" color="#555555">2019</text>
<text x="581.20" y="707.84" font-size="3.85" text-anchor="middle" fill="#555555" color="#555555">2020</text>
<text x="619.30" y="707.84" font-size="3.85" text-anchor="middle" fill="#555555" color="#555555">2021</text>
<text x="657.40" y="707.84" font-size="3.85" text-anchor="middle" fill="#555555" color="#555555">2022</text>
<text x="0" y="0" font-size="3.6" text-anchor="middle" fill="#555555" color="#555555" transform="translate(466.50,656.70) rotate(-90)" textLength="57" lengthAdjust="spacingAndGlyphs">Percentage of interventions (%)</text>
<line x1="539.40" y1="715.45" x2="548.90" y2="715.45" stroke="#E2702F" stroke-width="1.1"/>
<circle cx="544.15" cy="715.45" r="1.0" fill="#E2702F"/>
<text x="549.50" y="716.75" font-size="3.6" text-anchor="start" fill="#707070" color="#707070" textLength="9.60" lengthAdjust="spacingAndGlyphs">WVTT</text>
<line x1="562.10" y1="715.45" x2="571.60" y2="715.45" stroke="#1F8FC8" stroke-width="1.1"/>
<circle cx="566.85" cy="715.45" r="1.0" fill="#1F8FC8"/>
<text x="572.20" y="716.75" font-size="3.6" text-anchor="start" fill="#707070" color="#707070" textLength="7.10" lengthAdjust="spacingAndGlyphs">PVP</text>
<line x1="582.20" y1="715.45" x2="591.70" y2="715.45" stroke="#4FA22E" stroke-width="1.1"/>
<circle cx="586.95" cy="715.45" r="1.0" fill="#4FA22E"/>
<text x="592.30" y="716.75" font-size="3.6" text-anchor="start" fill="#707070" color="#707070" textLength="9.60" lengthAdjust="spacingAndGlyphs">Other</text>
<clipPath id="c52"><rect x="485.95" y="611.85" width="190.50" height="90.10"/></clipPath>
<g>
<polyline points="505.00,701.95 543.10,671.81 581.20,683.22 619.30,701.95 657.40,701.95" fill="none" stroke="#E2702F" stroke-width="1.15" stroke-linejoin="round" stroke-linecap="round"/>
<polyline points="505.00,615.07 543.10,644.66 581.20,631.18 619.30,615.52 657.40,629.91" fill="none" stroke="#1F8FC8" stroke-width="1.15" stroke-linejoin="round" stroke-linecap="round"/>
<polyline points="505.00,698.33 543.10,698.87 581.20,700.95 619.30,697.88 657.40,683.49" fill="none" stroke="#4FA22E" stroke-width="1.15" stroke-linejoin="round" stroke-linecap="round"/>
</g>
<circle cx="505.00" cy="701.95" r="1.2" fill="#E2702F"/>
<circle cx="543.10" cy="671.81" r="1.2" fill="#E2702F"/>
<circle cx="581.20" cy="683.22" r="1.2" fill="#E2702F"/>
<circle cx="619.30" cy="701.95" r="1.2" fill="#E2702F"/>
<circle cx="657.40" cy="701.95" r="1.2" fill="#E2702F"/>
<circle cx="505.00" cy="615.07" r="1.2" fill="#1F8FC8"/>
<circle cx="543.10" cy="644.66" r="1.2" fill="#1F8FC8"/>
<circle cx="581.20" cy="631.18" r="1.2" fill="#1F8FC8"/>
<circle cx="619.30" cy="615.52" r="1.2" fill="#1F8FC8"/>
<circle cx="657.40" cy="629.91" r="1.2" fill="#1F8FC8"/>
<circle cx="505.00" cy="698.33" r="1.2" fill="#4FA22E"/>
<circle cx="543.10" cy="698.87" r="1.2" fill="#4FA22E"/>
<circle cx="581.20" cy="700.95" r="1.2" fill="#4FA22E"/>
<circle cx="619.30" cy="697.88" r="1.2" fill="#4FA22E"/>
<circle cx="657.40" cy="683.49" r="1.2" fill="#4FA22E"/>
<text x="497.80" y="700.79" font-size="3.45" text-anchor="middle" fill="#555555" color="#555555">0.0%</text>
<text x="543.10" y="667.76" font-size="3.45" text-anchor="middle" fill="#555555" color="#555555">33.3%</text>
<text x="581.20" y="679.16" font-size="3.45" text-anchor="middle" fill="#555555" color="#555555">20.7%</text>
<text x="627.80" y="700.29" font-size="3.45" text-anchor="middle" fill="#555555" color="#555555">0.0%</text>
<text x="657.40" y="697.89" font-size="3.45" text-anchor="middle" fill="#555555" color="#555555">0.0%</text>
<text x="505.00" y="622.31" font-size="3.45" text-anchor="middle" fill="#555555" color="#555555">96.0%</text>
<text x="543.10" y="651.91" font-size="3.45" text-anchor="middle" fill="#555555" color="#555555">63.3%</text>
<text x="581.20" y="638.42" font-size="3.45" text-anchor="middle" fill="#555555" color="#555555">78.2%</text>
<text x="619.30" y="622.76" font-size="3.45" text-anchor="middle" fill="#555555" color="#555555">95.5%</text>
<text x="657.40" y="637.15" font-size="3.45" text-anchor="middle" fill="#555555" color="#555555">79.6%</text>
<text x="505.00" y="694.27" font-size="3.45" text-anchor="middle" fill="#555555" color="#555555">4.0%</text>
<text x="543.10" y="694.82" font-size="3.45" text-anchor="middle" fill="#555555" color="#555555">3.4%</text>
<text x="581.20" y="696.90" font-size="3.45" text-anchor="middle" fill="#555555" color="#555555">1.1%</text>
<text x="619.30" y="693.82" font-size="3.45" text-anchor="middle" fill="#555555" color="#555555">4.5%</text>
<text x="657.40" y="679.43" font-size="3.45" text-anchor="middle" fill="#555555" color="#555555">20.4%</text>
</svg>
</body></html>
